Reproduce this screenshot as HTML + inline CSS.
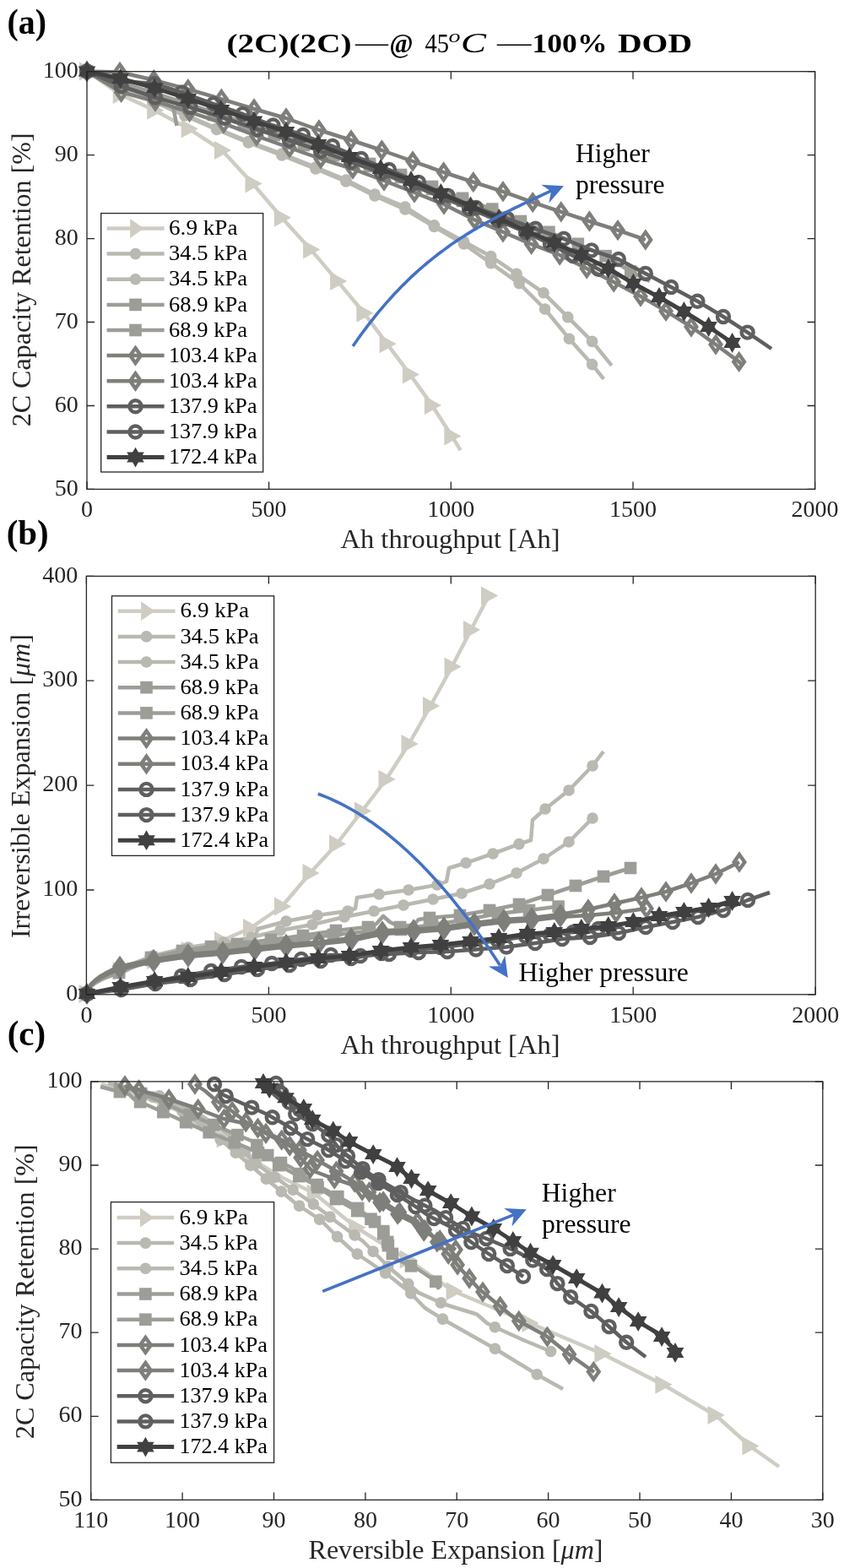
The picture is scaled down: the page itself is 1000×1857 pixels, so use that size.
<!DOCTYPE html>
<html><head><meta charset="utf-8"><title>figure</title><style>html,body{margin:0;padding:0;background:#fff;}svg{display:block;}</style></head><body>
<svg width="1000" height="1857" viewBox="0 0 1000 1857">
<style>text{font-family:'Liberation Serif', 'Times New Roman', serif;} .tk{font-size:28px;fill:#262626;} .lg{font-size:25px;fill:#000;} .lb{font-size:30.8px;fill:#262626;} .an{font-size:31.7px;fill:#000;} .pl{font-size:42px;font-weight:bold;fill:#000;}</style>
<rect width="1000" height="1857" fill="#fff"/>
<text x="8.5" y="40" class="pl" textLength="46.5" lengthAdjust="spacingAndGlyphs">(a)</text>
<text x="7.7" y="644.8" class="pl" textLength="50" lengthAdjust="spacingAndGlyphs">(b)</text>
<text x="8.7" y="1238.4" class="pl" textLength="45.5" lengthAdjust="spacingAndGlyphs">(c)</text>
<g style="font-size:32px;fill:#000">
<text x="268.5" y="62" font-weight="bold" textLength="148" lengthAdjust="spacingAndGlyphs">(2C)(2C)</text>
<text x="421" y="60.8" textLength="39" lengthAdjust="spacingAndGlyphs">—</text>
<text x="461.5" y="62" font-weight="bold" textLength="28" lengthAdjust="spacingAndGlyphs">@</text>
<text x="503.5" y="62" textLength="28.5" lengthAdjust="spacingAndGlyphs">45</text>
<text x="531.5" y="50" font-style="italic" style="font-size:21.5px" textLength="14" lengthAdjust="spacingAndGlyphs">o</text>
<text x="546" y="62" font-style="italic" style="font-size:33px" textLength="30" lengthAdjust="spacingAndGlyphs">C</text>
<text x="589" y="60.8" textLength="40.5" lengthAdjust="spacingAndGlyphs">—</text>
<text x="630.5" y="62" font-weight="bold" textLength="89" lengthAdjust="spacingAndGlyphs">100%</text>
<text x="732" y="62" font-weight="bold" textLength="88" lengthAdjust="spacingAndGlyphs">DOD</text>
</g>
<path d="M103,84.5 142.7,111.9 183.2,130.8 223.7,152.4 263,178 299.5,217.5 333.8,257.7 368.1,295.4 400.1,333.1 431.3,370.8 458.6,407.2 485.9,443.6 511.9,480 535.3,516.4 545.7,533.3" fill="none" stroke="#cfcdc3" stroke-width="4.5" stroke-linejoin="round"/>
<path d="M94 73.5L114.2 84.5L94 95.5Z" fill="#cfcdc3"/>
<path d="M133.7 100.9L153.9 111.9L133.7 122.9Z" fill="#cfcdc3"/>
<path d="M174.2 119.8L194.4 130.8L174.2 141.8Z" fill="#cfcdc3"/>
<path d="M214.7 141.4L234.9 152.4L214.7 163.4Z" fill="#cfcdc3"/>
<path d="M254 167L274.2 178L254 189Z" fill="#cfcdc3"/>
<path d="M290.5 206.5L310.7 217.5L290.5 228.5Z" fill="#cfcdc3"/>
<path d="M324.8 246.7L345 257.7L324.8 268.7Z" fill="#cfcdc3"/>
<path d="M359.1 284.4L379.3 295.4L359.1 306.4Z" fill="#cfcdc3"/>
<path d="M391.1 322.1L411.3 333.1L391.1 344.1Z" fill="#cfcdc3"/>
<path d="M422.3 359.8L442.5 370.8L422.3 381.8Z" fill="#cfcdc3"/>
<path d="M449.6 396.2L469.8 407.2L449.6 418.2Z" fill="#cfcdc3"/>
<path d="M476.9 432.6L497.1 443.6L476.9 454.6Z" fill="#cfcdc3"/>
<path d="M502.9 469L523.1 480L502.9 491Z" fill="#cfcdc3"/>
<path d="M526.3 505.4L546.5 516.4L526.3 527.4Z" fill="#cfcdc3"/>
<path d="M103,84.5 142,101.6 181,118.8 219,135.5 256.7,152 294.4,167.6 334,182 374,198 410,213 444,230 480,245 514.4,266.8 549.6,286 581.6,303.6 612,324.4 644,346.8 672.8,375.6 701.6,404.4 724.7,432.8" fill="none" stroke="#b9b8b1" stroke-width="4.5" stroke-linejoin="round"/>
<circle cx="103" cy="84.5" r="6.8" fill="#b9b8b1"/>
<circle cx="142" cy="101.6" r="6.8" fill="#b9b8b1"/>
<circle cx="181" cy="118.8" r="6.8" fill="#b9b8b1"/>
<circle cx="219" cy="135.5" r="6.8" fill="#b9b8b1"/>
<circle cx="256.7" cy="152" r="6.8" fill="#b9b8b1"/>
<circle cx="294.4" cy="167.6" r="6.8" fill="#b9b8b1"/>
<circle cx="334" cy="182" r="6.8" fill="#b9b8b1"/>
<circle cx="374" cy="198" r="6.8" fill="#b9b8b1"/>
<circle cx="410" cy="213" r="6.8" fill="#b9b8b1"/>
<circle cx="444" cy="230" r="6.8" fill="#b9b8b1"/>
<circle cx="480" cy="245" r="6.8" fill="#b9b8b1"/>
<circle cx="514.4" cy="266.8" r="6.8" fill="#b9b8b1"/>
<circle cx="549.6" cy="286" r="6.8" fill="#b9b8b1"/>
<circle cx="581.6" cy="303.6" r="6.8" fill="#b9b8b1"/>
<circle cx="612" cy="324.4" r="6.8" fill="#b9b8b1"/>
<circle cx="644" cy="346.8" r="6.8" fill="#b9b8b1"/>
<circle cx="672.8" cy="375.6" r="6.8" fill="#b9b8b1"/>
<circle cx="701.6" cy="404.4" r="6.8" fill="#b9b8b1"/>
<path d="M103,84.5 142,103 181,120 219,137 256.7,153.5 294.4,169 334,184 374,200 410,215 444,232 480,248 514.4,268.5 549.6,289 581.6,311.6 615.2,335.6 645.6,366 674.4,401.2 701.6,431.6 715.3,448.9" fill="none" stroke="#b9b8b1" stroke-width="4.5" stroke-linejoin="round"/>
<circle cx="103" cy="84.5" r="6.8" fill="#b9b8b1"/>
<circle cx="142" cy="103" r="6.8" fill="#b9b8b1"/>
<circle cx="181" cy="120" r="6.8" fill="#b9b8b1"/>
<circle cx="219" cy="137" r="6.8" fill="#b9b8b1"/>
<circle cx="256.7" cy="153.5" r="6.8" fill="#b9b8b1"/>
<circle cx="294.4" cy="169" r="6.8" fill="#b9b8b1"/>
<circle cx="334" cy="184" r="6.8" fill="#b9b8b1"/>
<circle cx="374" cy="200" r="6.8" fill="#b9b8b1"/>
<circle cx="410" cy="215" r="6.8" fill="#b9b8b1"/>
<circle cx="444" cy="232" r="6.8" fill="#b9b8b1"/>
<circle cx="480" cy="248" r="6.8" fill="#b9b8b1"/>
<circle cx="514.4" cy="268.5" r="6.8" fill="#b9b8b1"/>
<circle cx="549.6" cy="289" r="6.8" fill="#b9b8b1"/>
<circle cx="581.6" cy="311.6" r="6.8" fill="#b9b8b1"/>
<circle cx="615.2" cy="335.6" r="6.8" fill="#b9b8b1"/>
<circle cx="645.6" cy="366" r="6.8" fill="#b9b8b1"/>
<circle cx="674.4" cy="401.2" r="6.8" fill="#b9b8b1"/>
<circle cx="701.6" cy="431.6" r="6.8" fill="#b9b8b1"/>
<path d="M103,84.5 141,97 179,109 216,121 253,133 289,145 325,157 360,169 395,181 438,194 475,207 512,221 548,234.8 583.2,247.6 616.8,262 650.4,274.8 684.8,288.8 717.6,303.2 747.2,321.6 770,333" fill="none" stroke="#9d9d98" stroke-width="4.5" stroke-linejoin="round"/>
<rect x="95.7" y="77.2" width="14.6" height="14.6" fill="#9d9d98"/>
<rect x="133.7" y="89.7" width="14.6" height="14.6" fill="#9d9d98"/>
<rect x="171.7" y="101.7" width="14.6" height="14.6" fill="#9d9d98"/>
<rect x="208.7" y="113.7" width="14.6" height="14.6" fill="#9d9d98"/>
<rect x="245.7" y="125.7" width="14.6" height="14.6" fill="#9d9d98"/>
<rect x="281.7" y="137.7" width="14.6" height="14.6" fill="#9d9d98"/>
<rect x="317.7" y="149.7" width="14.6" height="14.6" fill="#9d9d98"/>
<rect x="352.7" y="161.7" width="14.6" height="14.6" fill="#9d9d98"/>
<rect x="387.7" y="173.7" width="14.6" height="14.6" fill="#9d9d98"/>
<rect x="430.7" y="186.7" width="14.6" height="14.6" fill="#9d9d98"/>
<rect x="467.7" y="199.7" width="14.6" height="14.6" fill="#9d9d98"/>
<rect x="504.7" y="213.7" width="14.6" height="14.6" fill="#9d9d98"/>
<rect x="540.7" y="227.5" width="14.6" height="14.6" fill="#9d9d98"/>
<rect x="575.9" y="240.3" width="14.6" height="14.6" fill="#9d9d98"/>
<rect x="609.5" y="254.7" width="14.6" height="14.6" fill="#9d9d98"/>
<rect x="643.1" y="267.5" width="14.6" height="14.6" fill="#9d9d98"/>
<rect x="677.5" y="281.5" width="14.6" height="14.6" fill="#9d9d98"/>
<rect x="710.3" y="295.9" width="14.6" height="14.6" fill="#9d9d98"/>
<rect x="739.9" y="314.3" width="14.6" height="14.6" fill="#9d9d98"/>
<path d="M103,84.5 141,99 179,111 216,124 253,136 289,148 325,160 360,172 395,184 438,197 475,210 512,224 548,238 583,251 617,265 650,279 662,285" fill="none" stroke="#9d9d98" stroke-width="4.5" stroke-linejoin="round"/>
<path d="M204,126 206,131 209.5,149" fill="none" stroke="#9d9d98" stroke-width="4.5" stroke-linejoin="round"/>
<rect x="95.7" y="77.2" width="14.6" height="14.6" fill="#9d9d98"/>
<rect x="133.7" y="91.7" width="14.6" height="14.6" fill="#9d9d98"/>
<rect x="171.7" y="103.7" width="14.6" height="14.6" fill="#9d9d98"/>
<rect x="208.7" y="116.7" width="14.6" height="14.6" fill="#9d9d98"/>
<rect x="245.7" y="128.7" width="14.6" height="14.6" fill="#9d9d98"/>
<rect x="281.7" y="140.7" width="14.6" height="14.6" fill="#9d9d98"/>
<rect x="317.7" y="152.7" width="14.6" height="14.6" fill="#9d9d98"/>
<rect x="352.7" y="164.7" width="14.6" height="14.6" fill="#9d9d98"/>
<rect x="387.7" y="176.7" width="14.6" height="14.6" fill="#9d9d98"/>
<rect x="430.7" y="189.7" width="14.6" height="14.6" fill="#9d9d98"/>
<rect x="467.7" y="202.7" width="14.6" height="14.6" fill="#9d9d98"/>
<rect x="504.7" y="216.7" width="14.6" height="14.6" fill="#9d9d98"/>
<rect x="540.7" y="230.7" width="14.6" height="14.6" fill="#9d9d98"/>
<rect x="575.7" y="243.7" width="14.6" height="14.6" fill="#9d9d98"/>
<rect x="609.7" y="257.7" width="14.6" height="14.6" fill="#9d9d98"/>
<rect x="642.7" y="271.7" width="14.6" height="14.6" fill="#9d9d98"/>
<path d="M103,84.5 142,85.5 182.3,94.8 222.8,105.6 262.4,117.3 301,129 339,140 378,154 416,166 452.4,178 489,191 525.6,204 560.8,215.6 596,226.8 631.2,239.6 664.8,250.8 698.4,262 732,272.6 764.8,284" fill="none" stroke="#7e7e7a" stroke-width="4.5" stroke-linejoin="round"/>
<path d="M103 75.6L109.3 84.5L103 93.4L96.7 84.5Z" fill="none" stroke="#7e7e7a" stroke-width="4.4"/>
<path d="M142 76.6L148.3 85.5L142 94.4L135.7 85.5Z" fill="none" stroke="#7e7e7a" stroke-width="4.4"/>
<path d="M182.3 85.9L188.6 94.8L182.3 103.7L176 94.8Z" fill="none" stroke="#7e7e7a" stroke-width="4.4"/>
<path d="M222.8 96.7L229.1 105.6L222.8 114.5L216.5 105.6Z" fill="none" stroke="#7e7e7a" stroke-width="4.4"/>
<path d="M262.4 108.4L268.7 117.3L262.4 126.2L256.1 117.3Z" fill="none" stroke="#7e7e7a" stroke-width="4.4"/>
<path d="M301 120.1L307.3 129L301 137.9L294.7 129Z" fill="none" stroke="#7e7e7a" stroke-width="4.4"/>
<path d="M339 131.1L345.3 140L339 148.9L332.7 140Z" fill="none" stroke="#7e7e7a" stroke-width="4.4"/>
<path d="M378 145.1L384.3 154L378 162.9L371.7 154Z" fill="none" stroke="#7e7e7a" stroke-width="4.4"/>
<path d="M416 157.1L422.3 166L416 174.9L409.7 166Z" fill="none" stroke="#7e7e7a" stroke-width="4.4"/>
<path d="M452.4 169.1L458.7 178L452.4 186.9L446.1 178Z" fill="none" stroke="#7e7e7a" stroke-width="4.4"/>
<path d="M489 182.1L495.3 191L489 199.9L482.7 191Z" fill="none" stroke="#7e7e7a" stroke-width="4.4"/>
<path d="M525.6 195.1L531.9 204L525.6 212.9L519.3 204Z" fill="none" stroke="#7e7e7a" stroke-width="4.4"/>
<path d="M560.8 206.7L567.1 215.6L560.8 224.5L554.5 215.6Z" fill="none" stroke="#7e7e7a" stroke-width="4.4"/>
<path d="M596 217.9L602.3 226.8L596 235.7L589.7 226.8Z" fill="none" stroke="#7e7e7a" stroke-width="4.4"/>
<path d="M631.2 230.7L637.5 239.6L631.2 248.5L624.9 239.6Z" fill="none" stroke="#7e7e7a" stroke-width="4.4"/>
<path d="M664.8 241.9L671.1 250.8L664.8 259.7L658.5 250.8Z" fill="none" stroke="#7e7e7a" stroke-width="4.4"/>
<path d="M698.4 253.1L704.7 262L698.4 270.9L692.1 262Z" fill="none" stroke="#7e7e7a" stroke-width="4.4"/>
<path d="M732 263.7L738.3 272.6L732 281.5L725.7 272.6Z" fill="none" stroke="#7e7e7a" stroke-width="4.4"/>
<path d="M764.8 275.1L771.1 284L764.8 292.9L758.5 284Z" fill="none" stroke="#7e7e7a" stroke-width="4.4"/>
<path d="M103,84.5 143.6,109.2 184,120 224.6,132.6 265,146.1 304,161 343,175 380,188 418,200 455,214 491,228 526,242 562.4,260.4 596,274.8 629.6,289.2 663.2,302 695.2,318 727.2,334 759,351 789,368.4 819,387 848,408 875.6,428.4 880,433" fill="none" stroke="#7e7e7a" stroke-width="4.5" stroke-linejoin="round"/>
<path d="M103 75.6L109.3 84.5L103 93.4L96.7 84.5Z" fill="none" stroke="#7e7e7a" stroke-width="4.4"/>
<path d="M143.6 100.3L149.9 109.2L143.6 118.1L137.3 109.2Z" fill="none" stroke="#7e7e7a" stroke-width="4.4"/>
<path d="M184 111.1L190.3 120L184 128.9L177.7 120Z" fill="none" stroke="#7e7e7a" stroke-width="4.4"/>
<path d="M224.6 123.7L230.9 132.6L224.6 141.5L218.3 132.6Z" fill="none" stroke="#7e7e7a" stroke-width="4.4"/>
<path d="M265 137.2L271.3 146.1L265 155L258.7 146.1Z" fill="none" stroke="#7e7e7a" stroke-width="4.4"/>
<path d="M304 152.1L310.3 161L304 169.9L297.7 161Z" fill="none" stroke="#7e7e7a" stroke-width="4.4"/>
<path d="M343 166.1L349.3 175L343 183.9L336.7 175Z" fill="none" stroke="#7e7e7a" stroke-width="4.4"/>
<path d="M380 179.1L386.3 188L380 196.9L373.7 188Z" fill="none" stroke="#7e7e7a" stroke-width="4.4"/>
<path d="M418 191.1L424.3 200L418 208.9L411.7 200Z" fill="none" stroke="#7e7e7a" stroke-width="4.4"/>
<path d="M455 205.1L461.3 214L455 222.9L448.7 214Z" fill="none" stroke="#7e7e7a" stroke-width="4.4"/>
<path d="M491 219.1L497.3 228L491 236.9L484.7 228Z" fill="none" stroke="#7e7e7a" stroke-width="4.4"/>
<path d="M526 233.1L532.3 242L526 250.9L519.7 242Z" fill="none" stroke="#7e7e7a" stroke-width="4.4"/>
<path d="M562.4 251.5L568.7 260.4L562.4 269.3L556.1 260.4Z" fill="none" stroke="#7e7e7a" stroke-width="4.4"/>
<path d="M596 265.9L602.3 274.8L596 283.7L589.7 274.8Z" fill="none" stroke="#7e7e7a" stroke-width="4.4"/>
<path d="M629.6 280.3L635.9 289.2L629.6 298.1L623.3 289.2Z" fill="none" stroke="#7e7e7a" stroke-width="4.4"/>
<path d="M663.2 293.1L669.5 302L663.2 310.9L656.9 302Z" fill="none" stroke="#7e7e7a" stroke-width="4.4"/>
<path d="M695.2 309.1L701.5 318L695.2 326.9L688.9 318Z" fill="none" stroke="#7e7e7a" stroke-width="4.4"/>
<path d="M727.2 325.1L733.5 334L727.2 342.9L720.9 334Z" fill="none" stroke="#7e7e7a" stroke-width="4.4"/>
<path d="M759 342.1L765.3 351L759 359.9L752.7 351Z" fill="none" stroke="#7e7e7a" stroke-width="4.4"/>
<path d="M789 359.5L795.3 368.4L789 377.3L782.7 368.4Z" fill="none" stroke="#7e7e7a" stroke-width="4.4"/>
<path d="M819 378.1L825.3 387L819 395.9L812.7 387Z" fill="none" stroke="#7e7e7a" stroke-width="4.4"/>
<path d="M848 399.1L854.3 408L848 416.9L841.7 408Z" fill="none" stroke="#7e7e7a" stroke-width="4.4"/>
<path d="M875.6 419.5L881.9 428.4L875.6 437.3L869.3 428.4Z" fill="none" stroke="#7e7e7a" stroke-width="4.4"/>
<path d="M103,84.5 143,96 182.5,99 215.5,109.5 253,123 287.5,135 323.5,148.5 359,160 394,173 428,188 461,201 496,216 530.4,231.6 564,246 600.8,258.8 634.4,270.8 668,282.8 700.8,296.4 732.8,307 764.8,324 795.2,340 826.4,356.8 857,375 885.6,393.6 914,413" fill="none" stroke="#5f5f5f" stroke-width="4.5" stroke-linejoin="round"/>
<circle cx="103" cy="84.5" r="7" fill="none" stroke="#5f5f5f" stroke-width="4.4"/>
<circle cx="143" cy="96" r="7" fill="none" stroke="#5f5f5f" stroke-width="4.4"/>
<circle cx="182.5" cy="99" r="7" fill="none" stroke="#5f5f5f" stroke-width="4.4"/>
<circle cx="215.5" cy="109.5" r="7" fill="none" stroke="#5f5f5f" stroke-width="4.4"/>
<circle cx="253" cy="123" r="7" fill="none" stroke="#5f5f5f" stroke-width="4.4"/>
<circle cx="287.5" cy="135" r="7" fill="none" stroke="#5f5f5f" stroke-width="4.4"/>
<circle cx="323.5" cy="148.5" r="7" fill="none" stroke="#5f5f5f" stroke-width="4.4"/>
<circle cx="359" cy="160" r="7" fill="none" stroke="#5f5f5f" stroke-width="4.4"/>
<circle cx="394" cy="173" r="7" fill="none" stroke="#5f5f5f" stroke-width="4.4"/>
<circle cx="428" cy="188" r="7" fill="none" stroke="#5f5f5f" stroke-width="4.4"/>
<circle cx="461" cy="201" r="7" fill="none" stroke="#5f5f5f" stroke-width="4.4"/>
<circle cx="496" cy="216" r="7" fill="none" stroke="#5f5f5f" stroke-width="4.4"/>
<circle cx="530.4" cy="231.6" r="7" fill="none" stroke="#5f5f5f" stroke-width="4.4"/>
<circle cx="564" cy="246" r="7" fill="none" stroke="#5f5f5f" stroke-width="4.4"/>
<circle cx="600.8" cy="258.8" r="7" fill="none" stroke="#5f5f5f" stroke-width="4.4"/>
<circle cx="634.4" cy="270.8" r="7" fill="none" stroke="#5f5f5f" stroke-width="4.4"/>
<circle cx="668" cy="282.8" r="7" fill="none" stroke="#5f5f5f" stroke-width="4.4"/>
<circle cx="700.8" cy="296.4" r="7" fill="none" stroke="#5f5f5f" stroke-width="4.4"/>
<circle cx="732.8" cy="307" r="7" fill="none" stroke="#5f5f5f" stroke-width="4.4"/>
<circle cx="764.8" cy="324" r="7" fill="none" stroke="#5f5f5f" stroke-width="4.4"/>
<circle cx="795.2" cy="340" r="7" fill="none" stroke="#5f5f5f" stroke-width="4.4"/>
<circle cx="826.4" cy="356.8" r="7" fill="none" stroke="#5f5f5f" stroke-width="4.4"/>
<circle cx="857" cy="375" r="7" fill="none" stroke="#5f5f5f" stroke-width="4.4"/>
<circle cx="885.6" cy="393.6" r="7" fill="none" stroke="#5f5f5f" stroke-width="4.4"/>
<path d="M103,84.5 143.6,102 184,115.5 225.5,127.2 266,139.8 305,153 343,166 380,179 416,192 452,205 487,219 522,233 556,247 590,261 623,275 652,289 679,303 709,318.8 715,322" fill="none" stroke="#5f5f5f" stroke-width="4.5" stroke-linejoin="round"/>
<circle cx="103" cy="84.5" r="7" fill="none" stroke="#5f5f5f" stroke-width="4.4"/>
<circle cx="143.6" cy="102" r="7" fill="none" stroke="#5f5f5f" stroke-width="4.4"/>
<circle cx="184" cy="115.5" r="7" fill="none" stroke="#5f5f5f" stroke-width="4.4"/>
<circle cx="225.5" cy="127.2" r="7" fill="none" stroke="#5f5f5f" stroke-width="4.4"/>
<circle cx="266" cy="139.8" r="7" fill="none" stroke="#5f5f5f" stroke-width="4.4"/>
<circle cx="305" cy="153" r="7" fill="none" stroke="#5f5f5f" stroke-width="4.4"/>
<circle cx="343" cy="166" r="7" fill="none" stroke="#5f5f5f" stroke-width="4.4"/>
<circle cx="380" cy="179" r="7" fill="none" stroke="#5f5f5f" stroke-width="4.4"/>
<circle cx="416" cy="192" r="7" fill="none" stroke="#5f5f5f" stroke-width="4.4"/>
<circle cx="452" cy="205" r="7" fill="none" stroke="#5f5f5f" stroke-width="4.4"/>
<circle cx="487" cy="219" r="7" fill="none" stroke="#5f5f5f" stroke-width="4.4"/>
<circle cx="522" cy="233" r="7" fill="none" stroke="#5f5f5f" stroke-width="4.4"/>
<circle cx="556" cy="247" r="7" fill="none" stroke="#5f5f5f" stroke-width="4.4"/>
<circle cx="590" cy="261" r="7" fill="none" stroke="#5f5f5f" stroke-width="4.4"/>
<circle cx="623" cy="275" r="7" fill="none" stroke="#5f5f5f" stroke-width="4.4"/>
<circle cx="652" cy="289" r="7" fill="none" stroke="#5f5f5f" stroke-width="4.4"/>
<circle cx="679" cy="303" r="7" fill="none" stroke="#5f5f5f" stroke-width="4.4"/>
<circle cx="709" cy="318.8" r="7" fill="none" stroke="#5f5f5f" stroke-width="4.4"/>
<path d="M103,84.5 142.7,93 183.2,104.2 222.8,116.8 262,130 301,143.4 339,156 377,171 414,186 451,200 487,214 522.4,229 557.6,244.4 591.2,258.8 624.8,273.8 656.8,287.6 688.8,302 720.8,318 750.4,335.6 781,352 810.4,369 839.6,387 867.6,406" fill="none" stroke="#404040" stroke-width="5.0" stroke-linejoin="round"/>
<path d="M103 72.6L106.4 78.5L113.3 78.5L109.9 84.5L113.3 90.5L106.4 90.5L103 96.4L99.6 90.5L92.7 90.5L96.1 84.5L92.7 78.5L99.6 78.5Z" fill="#404040"/>
<path d="M142.7 81.1L146.1 87L153 87L149.6 93L153 99L146.1 99L142.7 104.9L139.3 99L132.4 99L135.8 93L132.4 87L139.3 87Z" fill="#404040"/>
<path d="M183.2 92.3L186.6 98.2L193.5 98.2L190.1 104.2L193.5 110.2L186.6 110.2L183.2 116.1L179.8 110.2L172.9 110.2L176.3 104.2L172.9 98.2L179.8 98.2Z" fill="#404040"/>
<path d="M222.8 104.9L226.2 110.8L233.1 110.8L229.7 116.8L233.1 122.8L226.2 122.8L222.8 128.7L219.4 122.8L212.5 122.8L215.9 116.8L212.5 110.8L219.4 110.8Z" fill="#404040"/>
<path d="M262 118.1L265.4 124L272.3 124L268.9 130L272.3 135.9L265.4 135.9L262 141.9L258.6 135.9L251.7 135.9L255.1 130L251.7 124L258.6 124Z" fill="#404040"/>
<path d="M301 131.5L304.4 137.5L311.3 137.5L307.9 143.4L311.3 149.3L304.4 149.3L301 155.3L297.6 149.3L290.7 149.3L294.1 143.4L290.7 137.5L297.6 137.5Z" fill="#404040"/>
<path d="M339 144.1L342.4 150.1L349.3 150.1L345.9 156L349.3 161.9L342.4 161.9L339 167.9L335.6 161.9L328.7 161.9L332.1 156L328.7 150.1L335.6 150.1Z" fill="#404040"/>
<path d="M377 159.1L380.4 165.1L387.3 165.1L383.9 171L387.3 176.9L380.4 176.9L377 182.9L373.6 176.9L366.7 176.9L370.1 171L366.7 165.1L373.6 165.1Z" fill="#404040"/>
<path d="M414 174.1L417.4 180.1L424.3 180.1L420.9 186L424.3 191.9L417.4 191.9L414 197.9L410.6 191.9L403.7 191.9L407.1 186L403.7 180.1L410.6 180.1Z" fill="#404040"/>
<path d="M451 188.1L454.4 194.1L461.3 194.1L457.9 200L461.3 205.9L454.4 205.9L451 211.9L447.6 205.9L440.7 205.9L444.1 200L440.7 194.1L447.6 194.1Z" fill="#404040"/>
<path d="M487 202.1L490.4 208.1L497.3 208.1L493.9 214L497.3 219.9L490.4 219.9L487 225.9L483.6 219.9L476.7 219.9L480.1 214L476.7 208.1L483.6 208.1Z" fill="#404040"/>
<path d="M522.4 217.1L525.8 223.1L532.7 223.1L529.3 229L532.7 234.9L525.8 234.9L522.4 240.9L519 234.9L512.1 234.9L515.5 229L512.1 223.1L519 223.1Z" fill="#404040"/>
<path d="M557.6 232.5L561 238.5L567.9 238.5L564.5 244.4L567.9 250.3L561 250.3L557.6 256.3L554.2 250.3L547.3 250.3L550.7 244.4L547.3 238.5L554.2 238.5Z" fill="#404040"/>
<path d="M591.2 246.9L594.6 252.9L601.5 252.9L598.1 258.8L601.5 264.8L594.6 264.8L591.2 270.7L587.8 264.8L580.9 264.8L584.3 258.8L580.9 252.9L587.8 252.9Z" fill="#404040"/>
<path d="M624.8 261.9L628.2 267.9L635.1 267.9L631.7 273.8L635.1 279.8L628.2 279.8L624.8 285.7L621.4 279.8L614.5 279.8L617.9 273.8L614.5 267.9L621.4 267.9Z" fill="#404040"/>
<path d="M656.8 275.7L660.2 281.7L667.1 281.7L663.7 287.6L667.1 293.6L660.2 293.6L656.8 299.5L653.4 293.6L646.5 293.6L649.9 287.6L646.5 281.7L653.4 281.7Z" fill="#404040"/>
<path d="M688.8 290.1L692.2 296.1L699.1 296.1L695.7 302L699.1 307.9L692.2 307.9L688.8 313.9L685.4 307.9L678.5 307.9L681.9 302L678.5 296.1L685.4 296.1Z" fill="#404040"/>
<path d="M720.8 306.1L724.2 312.1L731.1 312.1L727.7 318L731.1 323.9L724.2 323.9L720.8 329.9L717.4 323.9L710.5 323.9L713.9 318L710.5 312.1L717.4 312.1Z" fill="#404040"/>
<path d="M750.4 323.7L753.8 329.7L760.7 329.7L757.3 335.6L760.7 341.6L753.8 341.6L750.4 347.5L747 341.6L740.1 341.6L743.5 335.6L740.1 329.7L747 329.7Z" fill="#404040"/>
<path d="M781 340.1L784.4 346.1L791.3 346.1L787.9 352L791.3 357.9L784.4 357.9L781 363.9L777.6 357.9L770.7 357.9L774.1 352L770.7 346.1L777.6 346.1Z" fill="#404040"/>
<path d="M810.4 357.1L813.8 363.1L820.7 363.1L817.3 369L820.7 374.9L813.8 374.9L810.4 380.9L807 374.9L800.1 374.9L803.5 369L800.1 363.1L807 363.1Z" fill="#404040"/>
<path d="M839.6 375.1L843 381.1L849.9 381.1L846.5 387L849.9 392.9L843 392.9L839.6 398.9L836.2 392.9L829.3 392.9L832.7 387L829.3 381.1L836.2 381.1Z" fill="#404040"/>
<path d="M867.6 394.1L871 400.1L877.9 400.1L874.5 406L877.9 411.9L871 411.9L867.6 417.9L864.2 411.9L857.3 411.9L860.7 406L857.3 400.1L864.2 400.1Z" fill="#404040"/>
<rect x="103" y="84.7" width="862.6" height="494.7" fill="none" stroke="#262626" stroke-width="1.3"/>
<path d="M103 579.4V570.4M103 84.7V93.7" stroke="#262626" stroke-width="1.3"/>
<text x="103" y="612.4" text-anchor="middle" class="tk">0</text>
<path d="M318.6 579.4V570.4M318.6 84.7V93.7" stroke="#262626" stroke-width="1.3"/>
<text x="318.6" y="612.4" text-anchor="middle" class="tk">500</text>
<path d="M534.3 579.4V570.4M534.3 84.7V93.7" stroke="#262626" stroke-width="1.3"/>
<text x="534.3" y="612.4" text-anchor="middle" class="tk">1000</text>
<path d="M750 579.4V570.4M750 84.7V93.7" stroke="#262626" stroke-width="1.3"/>
<text x="750" y="612.4" text-anchor="middle" class="tk">1500</text>
<path d="M965.6 579.4V570.4M965.6 84.7V93.7" stroke="#262626" stroke-width="1.3"/>
<text x="965.6" y="612.4" text-anchor="middle" class="tk">2000</text>
<path d="M103 579.4H112M965.6 579.4H956.6" stroke="#262626" stroke-width="1.3"/>
<text x="92.8" y="586.5" text-anchor="end" class="tk">50</text>
<path d="M103 480.5H112M965.6 480.5H956.6" stroke="#262626" stroke-width="1.3"/>
<text x="92.8" y="487.6" text-anchor="end" class="tk">60</text>
<path d="M103 381.5H112M965.6 381.5H956.6" stroke="#262626" stroke-width="1.3"/>
<text x="92.8" y="388.6" text-anchor="end" class="tk">70</text>
<path d="M103 282.6H112M965.6 282.6H956.6" stroke="#262626" stroke-width="1.3"/>
<text x="92.8" y="289.7" text-anchor="end" class="tk">80</text>
<path d="M103 183.6H112M965.6 183.6H956.6" stroke="#262626" stroke-width="1.3"/>
<text x="92.8" y="190.7" text-anchor="end" class="tk">90</text>
<path d="M103 84.7H112M965.6 84.7H956.6" stroke="#262626" stroke-width="1.3"/>
<text x="92.8" y="91.8" text-anchor="end" class="tk">100</text>
<rect x="119.7" y="252.6" width="192" height="306.4" fill="#fff" stroke="#262626" stroke-width="1.3"/>
<path d="M126.6,270.5 194.6,270.5" fill="none" stroke="#cfcdc3" stroke-width="4.5" stroke-linejoin="round"/>
<path d="M154.1 259L170.4 270.5L154.1 282Z" fill="#cfcdc3"/>
<text x="200" y="278.1" class="lg" textLength="81.5" lengthAdjust="spacingAndGlyphs">6.9 kPa</text>
<path d="M126.6,300.6 194.6,300.6" fill="none" stroke="#b9b8b1" stroke-width="4.5" stroke-linejoin="round"/>
<circle cx="160.5" cy="300.6" r="6.8" fill="#b9b8b1"/>
<text x="200" y="308.2" class="lg" textLength="93" lengthAdjust="spacingAndGlyphs">34.5 kPa</text>
<path d="M126.6,330.7 194.6,330.7" fill="none" stroke="#b9b8b1" stroke-width="4.5" stroke-linejoin="round"/>
<circle cx="160.5" cy="330.7" r="6.8" fill="#b9b8b1"/>
<text x="200" y="338.3" class="lg" textLength="93" lengthAdjust="spacingAndGlyphs">34.5 kPa</text>
<path d="M126.6,360.9 194.6,360.9" fill="none" stroke="#9d9d98" stroke-width="4.5" stroke-linejoin="round"/>
<rect x="153.2" y="353.6" width="14.6" height="14.6" fill="#9d9d98"/>
<text x="200" y="368.5" class="lg" textLength="93" lengthAdjust="spacingAndGlyphs">68.9 kPa</text>
<path d="M126.6,391 194.6,391" fill="none" stroke="#9d9d98" stroke-width="4.5" stroke-linejoin="round"/>
<rect x="153.2" y="383.7" width="14.6" height="14.6" fill="#9d9d98"/>
<text x="200" y="398.6" class="lg" textLength="93" lengthAdjust="spacingAndGlyphs">68.9 kPa</text>
<path d="M126.6,421.1 194.6,421.1" fill="none" stroke="#7e7e7a" stroke-width="4.5" stroke-linejoin="round"/>
<path d="M160.5 412.2L166.8 421.1L160.5 430L154.2 421.1Z" fill="none" stroke="#7e7e7a" stroke-width="4.4"/>
<text x="200" y="428.7" class="lg" textLength="104.5" lengthAdjust="spacingAndGlyphs">103.4 kPa</text>
<path d="M126.6,451.2 194.6,451.2" fill="none" stroke="#7e7e7a" stroke-width="4.5" stroke-linejoin="round"/>
<path d="M160.5 442.3L166.8 451.2L160.5 460.1L154.2 451.2Z" fill="none" stroke="#7e7e7a" stroke-width="4.4"/>
<text x="200" y="458.8" class="lg" textLength="104.5" lengthAdjust="spacingAndGlyphs">103.4 kPa</text>
<path d="M126.6,481.3 194.6,481.3" fill="none" stroke="#5f5f5f" stroke-width="4.5" stroke-linejoin="round"/>
<circle cx="160.5" cy="481.3" r="7" fill="none" stroke="#5f5f5f" stroke-width="4.4"/>
<text x="200" y="488.9" class="lg" textLength="104.5" lengthAdjust="spacingAndGlyphs">137.9 kPa</text>
<path d="M126.6,511.5 194.6,511.5" fill="none" stroke="#5f5f5f" stroke-width="4.5" stroke-linejoin="round"/>
<circle cx="160.5" cy="511.5" r="7" fill="none" stroke="#5f5f5f" stroke-width="4.4"/>
<text x="200" y="519.1" class="lg" textLength="104.5" lengthAdjust="spacingAndGlyphs">137.9 kPa</text>
<path d="M126.6,541.6 194.6,541.6" fill="none" stroke="#404040" stroke-width="5.0" stroke-linejoin="round"/>
<path d="M160.5 529.7L163.9 535.6L170.8 535.6L167.4 541.6L170.8 547.5L163.9 547.5L160.5 553.5L157.1 547.5L150.2 547.5L153.6 541.6L150.2 535.6L157.1 535.6Z" fill="#404040"/>
<text x="200" y="549.2" class="lg" textLength="104.5" lengthAdjust="spacingAndGlyphs">172.4 kPa</text>
<path d="M418.1,410 421.1,405.7 424,401.5 427,397.4 430,393.3 433,389.3 435.9,385.4 438.9,381.6 441.9,377.8 444.8,374.1 447.8,370.4 450.8,366.9 453.8,363.4 456.7,359.9 459.7,356.6 462.7,353.3 465.6,350 468.6,346.8 471.6,343.7 474.6,340.6 477.5,337.6 480.5,334.7 483.5,331.8 486.4,328.9 489.4,326.2 492.4,323.4 495.4,320.7 498.3,318.1 501.3,315.5 504.3,313 507.2,310.5 510.2,308.1 513.2,305.7 516.2,303.3 519.1,301 522.1,298.8 525.1,296.6 528.1,294.4 531,292.2 534,290.1 537,288.1 539.9,286.1 542.9,284.1 545.9,282.1 548.9,280.2 551.8,278.3 554.8,276.4 557.8,274.6 560.7,272.8 563.7,271.1 566.7,269.3 569.7,267.6 572.6,265.9 575.6,264.2 578.6,262.6 581.5,261 584.5,259.4 587.5,257.8 590.5,256.2 593.4,254.7 596.4,253.1 599.4,251.6 602.3,250.1 605.3,248.7 608.3,247.2 611.3,245.7 614.2,244.3 617.2,242.8 620.2,241.4 623.1,240 626.1,238.6 629.1,237.2 632.1,235.8 635,234.4 638,233 641,231.6 643.9,230.2 646.9,228.8 649.9,227.4 652.9,225.9" fill="none" stroke="#4472c4" stroke-width="3.6"/><path d="M667.9 220.2L650.4 240.4L652.9 226.6L641.2 218.7Z" fill="#4472c4"/>
<text x="681.8" y="192.2" class="an">Higher</text>
<text x="682" y="228.9" class="an">pressure</text>
<text x="403.5" y="649.4" class="lb" textLength="260" lengthAdjust="spacingAndGlyphs">Ah throughput [Ah]</text>
<text transform="translate(35.9,331.3) rotate(-90)" text-anchor="middle" class="lb" textLength="348" lengthAdjust="spacingAndGlyphs">2C Capacity Retention [%]</text>
<path d="M102.5,1177 104.1,1171.6 107.3,1167.6 112.5,1163.5 119.4,1159.5 127.4,1155.7 135.5,1152.6 142.7,1150 183.2,1137 223.7,1126 263,1114 297,1099 334,1073.5 367.5,1034 399,999.5 429,960.5 457.5,923 484.5,881 510,836 535.5,789.5 558,746 579,705.5" fill="none" stroke="#cfcdc3" stroke-width="4.5" stroke-linejoin="round"/>
<path d="M93.5 1166L113.7 1177L93.5 1188Z" fill="#cfcdc3"/>
<path d="M133.7 1139L153.9 1150L133.7 1161Z" fill="#cfcdc3"/>
<path d="M174.2 1126L194.4 1137L174.2 1148Z" fill="#cfcdc3"/>
<path d="M214.7 1115L234.9 1126L214.7 1137Z" fill="#cfcdc3"/>
<path d="M254 1103L274.2 1114L254 1125Z" fill="#cfcdc3"/>
<path d="M288 1088L308.2 1099L288 1110Z" fill="#cfcdc3"/>
<path d="M325 1062.5L345.2 1073.5L325 1084.5Z" fill="#cfcdc3"/>
<path d="M358.5 1023L378.7 1034L358.5 1045Z" fill="#cfcdc3"/>
<path d="M390 988.5L410.2 999.5L390 1010.5Z" fill="#cfcdc3"/>
<path d="M420 949.5L440.2 960.5L420 971.5Z" fill="#cfcdc3"/>
<path d="M448.5 912L468.7 923L448.5 934Z" fill="#cfcdc3"/>
<path d="M475.5 870L495.7 881L475.5 892Z" fill="#cfcdc3"/>
<path d="M501 825L521.2 836L501 847Z" fill="#cfcdc3"/>
<path d="M526.5 778.5L546.7 789.5L526.5 800.5Z" fill="#cfcdc3"/>
<path d="M549 735L569.2 746L549 757Z" fill="#cfcdc3"/>
<path d="M570 694.5L590.2 705.5L570 716.5Z" fill="#cfcdc3"/>
<path d="M102.5,1177 104.1,1171 107.2,1166.6 112.4,1162 119.1,1157.6 127,1153.4 134.9,1149.8 142,1147 181,1132 223,1122 265,1116 300,1112 306,1100 339,1091 376,1084 412,1079 421,1076 423,1063 449,1059 484,1054 518,1048 529,1044 532,1028 552,1022 584,1011 615,999.6 629,995 631,971 646,958 674,936 702,907 715,890" fill="none" stroke="#b9b8b1" stroke-width="4.5" stroke-linejoin="round"/>
<circle cx="103" cy="1177" r="6.8" fill="#b9b8b1"/>
<circle cx="142" cy="1147" r="6.8" fill="#b9b8b1"/>
<circle cx="181" cy="1132" r="6.8" fill="#b9b8b1"/>
<circle cx="223" cy="1122" r="6.8" fill="#b9b8b1"/>
<circle cx="265" cy="1116" r="6.8" fill="#b9b8b1"/>
<circle cx="339" cy="1091" r="6.8" fill="#b9b8b1"/>
<circle cx="376" cy="1084" r="6.8" fill="#b9b8b1"/>
<circle cx="412" cy="1079" r="6.8" fill="#b9b8b1"/>
<circle cx="449" cy="1059" r="6.8" fill="#b9b8b1"/>
<circle cx="484" cy="1054" r="6.8" fill="#b9b8b1"/>
<circle cx="518" cy="1048" r="6.8" fill="#b9b8b1"/>
<circle cx="552" cy="1022" r="6.8" fill="#b9b8b1"/>
<circle cx="584" cy="1011" r="6.8" fill="#b9b8b1"/>
<circle cx="615" cy="999.6" r="6.8" fill="#b9b8b1"/>
<circle cx="646" cy="958" r="6.8" fill="#b9b8b1"/>
<circle cx="674" cy="936" r="6.8" fill="#b9b8b1"/>
<circle cx="702" cy="907" r="6.8" fill="#b9b8b1"/>
<path d="M102.5,1177 104.1,1171.6 107.2,1167.6 112.4,1163.5 119.1,1159.5 127,1155.7 134.9,1152.6 142,1150 181,1135 223,1125 265,1118 298,1110 332,1102 370,1095 408,1086 443,1079 478,1072 513,1065 547,1058 580,1047 612,1034 644,1017 674,997 702,969" fill="none" stroke="#b9b8b1" stroke-width="4.5" stroke-linejoin="round"/>
<circle cx="102.5" cy="1177" r="6.8" fill="#b9b8b1"/>
<circle cx="142" cy="1150" r="6.8" fill="#b9b8b1"/>
<circle cx="181" cy="1135" r="6.8" fill="#b9b8b1"/>
<circle cx="223" cy="1125" r="6.8" fill="#b9b8b1"/>
<circle cx="265" cy="1118" r="6.8" fill="#b9b8b1"/>
<circle cx="298" cy="1110" r="6.8" fill="#b9b8b1"/>
<circle cx="332" cy="1102" r="6.8" fill="#b9b8b1"/>
<circle cx="370" cy="1095" r="6.8" fill="#b9b8b1"/>
<circle cx="408" cy="1086" r="6.8" fill="#b9b8b1"/>
<circle cx="443" cy="1079" r="6.8" fill="#b9b8b1"/>
<circle cx="478" cy="1072" r="6.8" fill="#b9b8b1"/>
<circle cx="513" cy="1065" r="6.8" fill="#b9b8b1"/>
<circle cx="547" cy="1058" r="6.8" fill="#b9b8b1"/>
<circle cx="580" cy="1047" r="6.8" fill="#b9b8b1"/>
<circle cx="612" cy="1034" r="6.8" fill="#b9b8b1"/>
<circle cx="644" cy="1017" r="6.8" fill="#b9b8b1"/>
<circle cx="674" cy="997" r="6.8" fill="#b9b8b1"/>
<circle cx="702" cy="969" r="6.8" fill="#b9b8b1"/>
<path d="M103,1177 104.5,1171.6 107.6,1167.6 112.5,1163.5 119,1159.5 126.6,1155.7 134.2,1152.6 141,1150 179,1134 216,1126 250,1121 281,1118 321,1113 359,1108 398,1102 436,1098 446,1094 454,1085 462,1092 474,1098 490,1095 496,1089 509,1087 545,1084 580,1078 615,1071 649,1060 682,1049 715,1038 747,1028" fill="none" stroke="#9d9d98" stroke-width="4.5" stroke-linejoin="round"/>
<rect x="95.7" y="1169.7" width="14.6" height="14.6" fill="#9d9d98"/>
<rect x="133.7" y="1142.7" width="14.6" height="14.6" fill="#9d9d98"/>
<rect x="171.7" y="1126.7" width="14.6" height="14.6" fill="#9d9d98"/>
<rect x="208.7" y="1118.7" width="14.6" height="14.6" fill="#9d9d98"/>
<rect x="242.7" y="1113.7" width="14.6" height="14.6" fill="#9d9d98"/>
<rect x="273.7" y="1110.7" width="14.6" height="14.6" fill="#9d9d98"/>
<rect x="313.7" y="1105.7" width="14.6" height="14.6" fill="#9d9d98"/>
<rect x="351.7" y="1100.7" width="14.6" height="14.6" fill="#9d9d98"/>
<rect x="390.7" y="1094.7" width="14.6" height="14.6" fill="#9d9d98"/>
<rect x="428.7" y="1090.7" width="14.6" height="14.6" fill="#9d9d98"/>
<rect x="466.7" y="1090.7" width="14.6" height="14.6" fill="#9d9d98"/>
<rect x="501.7" y="1079.7" width="14.6" height="14.6" fill="#9d9d98"/>
<rect x="537.7" y="1076.7" width="14.6" height="14.6" fill="#9d9d98"/>
<rect x="572.7" y="1070.7" width="14.6" height="14.6" fill="#9d9d98"/>
<rect x="607.7" y="1063.7" width="14.6" height="14.6" fill="#9d9d98"/>
<rect x="641.7" y="1052.7" width="14.6" height="14.6" fill="#9d9d98"/>
<rect x="674.7" y="1041.7" width="14.6" height="14.6" fill="#9d9d98"/>
<rect x="707.7" y="1030.7" width="14.6" height="14.6" fill="#9d9d98"/>
<rect x="739.7" y="1020.7" width="14.6" height="14.6" fill="#9d9d98"/>
<path d="M103,1177 104.5,1172 107.6,1168.3 112.5,1164.5 119,1160.8 126.6,1157.3 134.2,1154.4 141,1152 179,1137 216,1129 253,1124 289,1121 325,1117 360,1112 395,1107 438,1103 475,1101 512,1095 548,1090 590,1082 627,1078 661.6,1073.6" fill="none" stroke="#9d9d98" stroke-width="4.5" stroke-linejoin="round"/>
<rect x="95.7" y="1169.7" width="14.6" height="14.6" fill="#9d9d98"/>
<rect x="133.7" y="1144.7" width="14.6" height="14.6" fill="#9d9d98"/>
<rect x="171.7" y="1129.7" width="14.6" height="14.6" fill="#9d9d98"/>
<rect x="208.7" y="1121.7" width="14.6" height="14.6" fill="#9d9d98"/>
<rect x="245.7" y="1116.7" width="14.6" height="14.6" fill="#9d9d98"/>
<rect x="281.7" y="1113.7" width="14.6" height="14.6" fill="#9d9d98"/>
<rect x="317.7" y="1109.7" width="14.6" height="14.6" fill="#9d9d98"/>
<rect x="352.7" y="1104.7" width="14.6" height="14.6" fill="#9d9d98"/>
<rect x="387.7" y="1099.7" width="14.6" height="14.6" fill="#9d9d98"/>
<rect x="430.7" y="1095.7" width="14.6" height="14.6" fill="#9d9d98"/>
<rect x="467.7" y="1093.7" width="14.6" height="14.6" fill="#9d9d98"/>
<rect x="504.7" y="1087.7" width="14.6" height="14.6" fill="#9d9d98"/>
<rect x="540.7" y="1082.7" width="14.6" height="14.6" fill="#9d9d98"/>
<rect x="582.7" y="1074.7" width="14.6" height="14.6" fill="#9d9d98"/>
<rect x="619.7" y="1070.7" width="14.6" height="14.6" fill="#9d9d98"/>
<rect x="654.3" y="1066.3" width="14.6" height="14.6" fill="#9d9d98"/>
<path d="M103,1177 104.6,1171.1 107.7,1166.8 112.8,1162.2 119.4,1157.9 127.2,1153.8 135,1150.3 142,1147.5 182,1139 223,1133 264,1129.5 302,1125.5 339,1121.5 378,1118 416,1114 453,1106 490,1104 526,1101 562,1096 597,1092 630,1090 664,1086 697,1084 730,1081 766,1076" fill="none" stroke="#7e7e7a" stroke-width="4.5" stroke-linejoin="round"/>
<path d="M103 1168.1L109.3 1177L103 1185.9L96.7 1177Z" fill="none" stroke="#7e7e7a" stroke-width="4.4"/>
<path d="M142 1138.6L148.3 1147.5L142 1156.4L135.7 1147.5Z" fill="none" stroke="#7e7e7a" stroke-width="4.4"/>
<path d="M182 1130.1L188.3 1139L182 1147.9L175.7 1139Z" fill="none" stroke="#7e7e7a" stroke-width="4.4"/>
<path d="M223 1124.1L229.3 1133L223 1141.9L216.7 1133Z" fill="none" stroke="#7e7e7a" stroke-width="4.4"/>
<path d="M264 1120.6L270.3 1129.5L264 1138.4L257.7 1129.5Z" fill="none" stroke="#7e7e7a" stroke-width="4.4"/>
<path d="M302 1116.6L308.3 1125.5L302 1134.4L295.7 1125.5Z" fill="none" stroke="#7e7e7a" stroke-width="4.4"/>
<path d="M339 1112.6L345.3 1121.5L339 1130.4L332.7 1121.5Z" fill="none" stroke="#7e7e7a" stroke-width="4.4"/>
<path d="M378 1109.1L384.3 1118L378 1126.9L371.7 1118Z" fill="none" stroke="#7e7e7a" stroke-width="4.4"/>
<path d="M416 1105.1L422.3 1114L416 1122.9L409.7 1114Z" fill="none" stroke="#7e7e7a" stroke-width="4.4"/>
<path d="M453 1097.1L459.3 1106L453 1114.9L446.7 1106Z" fill="none" stroke="#7e7e7a" stroke-width="4.4"/>
<path d="M490 1095.1L496.3 1104L490 1112.9L483.7 1104Z" fill="none" stroke="#7e7e7a" stroke-width="4.4"/>
<path d="M526 1092.1L532.3 1101L526 1109.9L519.7 1101Z" fill="none" stroke="#7e7e7a" stroke-width="4.4"/>
<path d="M562 1087.1L568.3 1096L562 1104.9L555.7 1096Z" fill="none" stroke="#7e7e7a" stroke-width="4.4"/>
<path d="M597 1083.1L603.3 1092L597 1100.9L590.7 1092Z" fill="none" stroke="#7e7e7a" stroke-width="4.4"/>
<path d="M630 1081.1L636.3 1090L630 1098.9L623.7 1090Z" fill="none" stroke="#7e7e7a" stroke-width="4.4"/>
<path d="M664 1077.1L670.3 1086L664 1094.9L657.7 1086Z" fill="none" stroke="#7e7e7a" stroke-width="4.4"/>
<path d="M697 1075.1L703.3 1084L697 1092.9L690.7 1084Z" fill="none" stroke="#7e7e7a" stroke-width="4.4"/>
<path d="M730 1072.1L736.3 1081L730 1089.9L723.7 1081Z" fill="none" stroke="#7e7e7a" stroke-width="4.4"/>
<path d="M766 1067.1L772.3 1076L766 1084.9L759.7 1076Z" fill="none" stroke="#7e7e7a" stroke-width="4.4"/>
<path d="M103,1177 104.6,1170.5 107.7,1165.7 112.8,1160.8 119.4,1155.9 127.2,1151.4 135,1147.6 142,1144.5 182,1136.5 223,1130 264,1127 302,1122.5 339,1118.5 378,1116 416,1111 453,1103 490,1101 526,1098 562,1093 597,1089 630,1087 664,1083 697,1077 728,1070 760,1063 789,1056 819,1046 848,1035 876,1021" fill="none" stroke="#7e7e7a" stroke-width="4.5" stroke-linejoin="round"/>
<path d="M103 1168.1L109.3 1177L103 1185.9L96.7 1177Z" fill="none" stroke="#7e7e7a" stroke-width="4.4"/>
<path d="M142 1135.6L148.3 1144.5L142 1153.4L135.7 1144.5Z" fill="none" stroke="#7e7e7a" stroke-width="4.4"/>
<path d="M182 1127.6L188.3 1136.5L182 1145.4L175.7 1136.5Z" fill="none" stroke="#7e7e7a" stroke-width="4.4"/>
<path d="M223 1121.1L229.3 1130L223 1138.9L216.7 1130Z" fill="none" stroke="#7e7e7a" stroke-width="4.4"/>
<path d="M264 1118.1L270.3 1127L264 1135.9L257.7 1127Z" fill="none" stroke="#7e7e7a" stroke-width="4.4"/>
<path d="M302 1113.6L308.3 1122.5L302 1131.4L295.7 1122.5Z" fill="none" stroke="#7e7e7a" stroke-width="4.4"/>
<path d="M339 1109.6L345.3 1118.5L339 1127.4L332.7 1118.5Z" fill="none" stroke="#7e7e7a" stroke-width="4.4"/>
<path d="M378 1107.1L384.3 1116L378 1124.9L371.7 1116Z" fill="none" stroke="#7e7e7a" stroke-width="4.4"/>
<path d="M416 1102.1L422.3 1111L416 1119.9L409.7 1111Z" fill="none" stroke="#7e7e7a" stroke-width="4.4"/>
<path d="M453 1094.1L459.3 1103L453 1111.9L446.7 1103Z" fill="none" stroke="#7e7e7a" stroke-width="4.4"/>
<path d="M490 1092.1L496.3 1101L490 1109.9L483.7 1101Z" fill="none" stroke="#7e7e7a" stroke-width="4.4"/>
<path d="M526 1089.1L532.3 1098L526 1106.9L519.7 1098Z" fill="none" stroke="#7e7e7a" stroke-width="4.4"/>
<path d="M562 1084.1L568.3 1093L562 1101.9L555.7 1093Z" fill="none" stroke="#7e7e7a" stroke-width="4.4"/>
<path d="M597 1080.1L603.3 1089L597 1097.9L590.7 1089Z" fill="none" stroke="#7e7e7a" stroke-width="4.4"/>
<path d="M630 1078.1L636.3 1087L630 1095.9L623.7 1087Z" fill="none" stroke="#7e7e7a" stroke-width="4.4"/>
<path d="M664 1074.1L670.3 1083L664 1091.9L657.7 1083Z" fill="none" stroke="#7e7e7a" stroke-width="4.4"/>
<path d="M697 1068.1L703.3 1077L697 1085.9L690.7 1077Z" fill="none" stroke="#7e7e7a" stroke-width="4.4"/>
<path d="M728 1061.1L734.3 1070L728 1078.9L721.7 1070Z" fill="none" stroke="#7e7e7a" stroke-width="4.4"/>
<path d="M760 1054.1L766.3 1063L760 1071.9L753.7 1063Z" fill="none" stroke="#7e7e7a" stroke-width="4.4"/>
<path d="M789 1047.1L795.3 1056L789 1064.9L782.7 1056Z" fill="none" stroke="#7e7e7a" stroke-width="4.4"/>
<path d="M819 1037.1L825.3 1046L819 1054.9L812.7 1046Z" fill="none" stroke="#7e7e7a" stroke-width="4.4"/>
<path d="M848 1026.1L854.3 1035L848 1043.9L841.7 1035Z" fill="none" stroke="#7e7e7a" stroke-width="4.4"/>
<path d="M876 1012.1L882.3 1021L876 1029.9L869.7 1021Z" fill="none" stroke="#7e7e7a" stroke-width="4.4"/>
<path d="M103,1177 143,1170 182,1163 215,1156 250,1150 286,1145 322,1141 357,1136 392,1131 427,1132 461,1130 496,1128 530,1127 564,1124.5 600,1121.5 634,1117 666,1112 699,1110 733,1105 765,1098 797,1092 827,1086 857,1078 886,1066 912,1057" fill="none" stroke="#5f5f5f" stroke-width="4.5" stroke-linejoin="round"/>
<circle cx="103" cy="1177" r="7" fill="none" stroke="#5f5f5f" stroke-width="4.4"/>
<circle cx="143" cy="1170" r="7" fill="none" stroke="#5f5f5f" stroke-width="4.4"/>
<circle cx="182" cy="1163" r="7" fill="none" stroke="#5f5f5f" stroke-width="4.4"/>
<circle cx="215" cy="1156" r="7" fill="none" stroke="#5f5f5f" stroke-width="4.4"/>
<circle cx="250" cy="1150" r="7" fill="none" stroke="#5f5f5f" stroke-width="4.4"/>
<circle cx="286" cy="1145" r="7" fill="none" stroke="#5f5f5f" stroke-width="4.4"/>
<circle cx="322" cy="1141" r="7" fill="none" stroke="#5f5f5f" stroke-width="4.4"/>
<circle cx="357" cy="1136" r="7" fill="none" stroke="#5f5f5f" stroke-width="4.4"/>
<circle cx="392" cy="1131" r="7" fill="none" stroke="#5f5f5f" stroke-width="4.4"/>
<circle cx="427" cy="1132" r="7" fill="none" stroke="#5f5f5f" stroke-width="4.4"/>
<circle cx="461" cy="1130" r="7" fill="none" stroke="#5f5f5f" stroke-width="4.4"/>
<circle cx="496" cy="1128" r="7" fill="none" stroke="#5f5f5f" stroke-width="4.4"/>
<circle cx="530" cy="1127" r="7" fill="none" stroke="#5f5f5f" stroke-width="4.4"/>
<circle cx="564" cy="1124.5" r="7" fill="none" stroke="#5f5f5f" stroke-width="4.4"/>
<circle cx="600" cy="1121.5" r="7" fill="none" stroke="#5f5f5f" stroke-width="4.4"/>
<circle cx="634" cy="1117" r="7" fill="none" stroke="#5f5f5f" stroke-width="4.4"/>
<circle cx="666" cy="1112" r="7" fill="none" stroke="#5f5f5f" stroke-width="4.4"/>
<circle cx="699" cy="1110" r="7" fill="none" stroke="#5f5f5f" stroke-width="4.4"/>
<circle cx="733" cy="1105" r="7" fill="none" stroke="#5f5f5f" stroke-width="4.4"/>
<circle cx="765" cy="1098" r="7" fill="none" stroke="#5f5f5f" stroke-width="4.4"/>
<circle cx="797" cy="1092" r="7" fill="none" stroke="#5f5f5f" stroke-width="4.4"/>
<circle cx="827" cy="1086" r="7" fill="none" stroke="#5f5f5f" stroke-width="4.4"/>
<circle cx="857" cy="1078" r="7" fill="none" stroke="#5f5f5f" stroke-width="4.4"/>
<circle cx="886" cy="1066" r="7" fill="none" stroke="#5f5f5f" stroke-width="4.4"/>
<path d="M103,1177 143.6,1172 184,1165 225.5,1160 266,1154 305,1148 343,1143 380,1138 416,1135 452,1129 487,1125 522,1122 556,1118 590,1114 623,1109 652,1107 679,1104 709,1100 735,1097" fill="none" stroke="#5f5f5f" stroke-width="4.5" stroke-linejoin="round"/>
<circle cx="103" cy="1177" r="7" fill="none" stroke="#5f5f5f" stroke-width="4.4"/>
<circle cx="143.6" cy="1172" r="7" fill="none" stroke="#5f5f5f" stroke-width="4.4"/>
<circle cx="184" cy="1165" r="7" fill="none" stroke="#5f5f5f" stroke-width="4.4"/>
<circle cx="225.5" cy="1160" r="7" fill="none" stroke="#5f5f5f" stroke-width="4.4"/>
<circle cx="266" cy="1154" r="7" fill="none" stroke="#5f5f5f" stroke-width="4.4"/>
<circle cx="305" cy="1148" r="7" fill="none" stroke="#5f5f5f" stroke-width="4.4"/>
<circle cx="343" cy="1143" r="7" fill="none" stroke="#5f5f5f" stroke-width="4.4"/>
<circle cx="380" cy="1138" r="7" fill="none" stroke="#5f5f5f" stroke-width="4.4"/>
<circle cx="416" cy="1135" r="7" fill="none" stroke="#5f5f5f" stroke-width="4.4"/>
<circle cx="452" cy="1129" r="7" fill="none" stroke="#5f5f5f" stroke-width="4.4"/>
<circle cx="487" cy="1125" r="7" fill="none" stroke="#5f5f5f" stroke-width="4.4"/>
<circle cx="522" cy="1122" r="7" fill="none" stroke="#5f5f5f" stroke-width="4.4"/>
<circle cx="556" cy="1118" r="7" fill="none" stroke="#5f5f5f" stroke-width="4.4"/>
<circle cx="590" cy="1114" r="7" fill="none" stroke="#5f5f5f" stroke-width="4.4"/>
<circle cx="623" cy="1109" r="7" fill="none" stroke="#5f5f5f" stroke-width="4.4"/>
<circle cx="652" cy="1107" r="7" fill="none" stroke="#5f5f5f" stroke-width="4.4"/>
<circle cx="679" cy="1104" r="7" fill="none" stroke="#5f5f5f" stroke-width="4.4"/>
<circle cx="709" cy="1100" r="7" fill="none" stroke="#5f5f5f" stroke-width="4.4"/>
<path d="M103,1177 142.7,1169 183.2,1162 222.8,1157 262,1151 301,1145 339,1140 377,1135 414,1132 451,1126 487,1122 522,1119 557.6,1115 591,1111 624.8,1106 656.8,1104 688.8,1100 720.8,1097 750.4,1092 781,1085 810.4,1080 839.6,1075 867.6,1067" fill="none" stroke="#404040" stroke-width="5.0" stroke-linejoin="round"/>
<path d="M103 1165.1L106.4 1171L113.3 1171L109.9 1177L113.3 1183L106.4 1183L103 1188.9L99.6 1183L92.7 1183L96.1 1177L92.7 1171L99.6 1171Z" fill="#404040"/>
<path d="M142.7 1157.1L146.1 1163L153 1163L149.6 1169L153 1175L146.1 1175L142.7 1180.9L139.3 1175L132.4 1175L135.8 1169L132.4 1163L139.3 1163Z" fill="#404040"/>
<path d="M183.2 1150.1L186.6 1156L193.5 1156L190.1 1162L193.5 1168L186.6 1168L183.2 1173.9L179.8 1168L172.9 1168L176.3 1162L172.9 1156L179.8 1156Z" fill="#404040"/>
<path d="M222.8 1145.1L226.2 1151L233.1 1151L229.7 1157L233.1 1163L226.2 1163L222.8 1168.9L219.4 1163L212.5 1163L215.9 1157L212.5 1151L219.4 1151Z" fill="#404040"/>
<path d="M262 1139.1L265.4 1145L272.3 1145L268.9 1151L272.3 1157L265.4 1157L262 1162.9L258.6 1157L251.7 1157L255.1 1151L251.7 1145L258.6 1145Z" fill="#404040"/>
<path d="M301 1133.1L304.4 1139L311.3 1139L307.9 1145L311.3 1151L304.4 1151L301 1156.9L297.6 1151L290.7 1151L294.1 1145L290.7 1139L297.6 1139Z" fill="#404040"/>
<path d="M339 1128.1L342.4 1134L349.3 1134L345.9 1140L349.3 1146L342.4 1146L339 1151.9L335.6 1146L328.7 1146L332.1 1140L328.7 1134L335.6 1134Z" fill="#404040"/>
<path d="M377 1123.1L380.4 1129L387.3 1129L383.9 1135L387.3 1141L380.4 1141L377 1146.9L373.6 1141L366.7 1141L370.1 1135L366.7 1129L373.6 1129Z" fill="#404040"/>
<path d="M414 1120.1L417.4 1126L424.3 1126L420.9 1132L424.3 1138L417.4 1138L414 1143.9L410.6 1138L403.7 1138L407.1 1132L403.7 1126L410.6 1126Z" fill="#404040"/>
<path d="M451 1114.1L454.4 1120L461.3 1120L457.9 1126L461.3 1132L454.4 1132L451 1137.9L447.6 1132L440.7 1132L444.1 1126L440.7 1120L447.6 1120Z" fill="#404040"/>
<path d="M487 1110.1L490.4 1116L497.3 1116L493.9 1122L497.3 1128L490.4 1128L487 1133.9L483.6 1128L476.7 1128L480.1 1122L476.7 1116L483.6 1116Z" fill="#404040"/>
<path d="M522 1107.1L525.4 1113L532.3 1113L528.9 1119L532.3 1125L525.4 1125L522 1130.9L518.6 1125L511.7 1125L515.1 1119L511.7 1113L518.6 1113Z" fill="#404040"/>
<path d="M557.6 1103.1L561 1109L567.9 1109L564.5 1115L567.9 1121L561 1121L557.6 1126.9L554.2 1121L547.3 1121L550.7 1115L547.3 1109L554.2 1109Z" fill="#404040"/>
<path d="M591 1099.1L594.4 1105L601.3 1105L597.9 1111L601.3 1117L594.4 1117L591 1122.9L587.6 1117L580.7 1117L584.1 1111L580.7 1105L587.6 1105Z" fill="#404040"/>
<path d="M624.8 1094.1L628.2 1100L635.1 1100L631.7 1106L635.1 1112L628.2 1112L624.8 1117.9L621.4 1112L614.5 1112L617.9 1106L614.5 1100L621.4 1100Z" fill="#404040"/>
<path d="M656.8 1092.1L660.2 1098L667.1 1098L663.7 1104L667.1 1110L660.2 1110L656.8 1115.9L653.4 1110L646.5 1110L649.9 1104L646.5 1098L653.4 1098Z" fill="#404040"/>
<path d="M688.8 1088.1L692.2 1094L699.1 1094L695.7 1100L699.1 1106L692.2 1106L688.8 1111.9L685.4 1106L678.5 1106L681.9 1100L678.5 1094L685.4 1094Z" fill="#404040"/>
<path d="M720.8 1085.1L724.2 1091L731.1 1091L727.7 1097L731.1 1103L724.2 1103L720.8 1108.9L717.4 1103L710.5 1103L713.9 1097L710.5 1091L717.4 1091Z" fill="#404040"/>
<path d="M750.4 1080.1L753.8 1086L760.7 1086L757.3 1092L760.7 1098L753.8 1098L750.4 1103.9L747 1098L740.1 1098L743.5 1092L740.1 1086L747 1086Z" fill="#404040"/>
<path d="M781 1073.1L784.4 1079L791.3 1079L787.9 1085L791.3 1091L784.4 1091L781 1096.9L777.6 1091L770.7 1091L774.1 1085L770.7 1079L777.6 1079Z" fill="#404040"/>
<path d="M810.4 1068.1L813.8 1074L820.7 1074L817.3 1080L820.7 1086L813.8 1086L810.4 1091.9L807 1086L800.1 1086L803.5 1080L800.1 1074L807 1074Z" fill="#404040"/>
<path d="M839.6 1063.1L843 1069L849.9 1069L846.5 1075L849.9 1081L843 1081L839.6 1086.9L836.2 1081L829.3 1081L832.7 1075L829.3 1069L836.2 1069Z" fill="#404040"/>
<path d="M867.6 1055.1L871 1061L877.9 1061L874.5 1067L877.9 1073L871 1073L867.6 1078.9L864.2 1073L857.3 1073L860.7 1067L857.3 1061L864.2 1061Z" fill="#404040"/>
<rect x="102.4" y="682.4" width="863.8" height="495.4" fill="none" stroke="#262626" stroke-width="1.3"/>
<path d="M102.4 1177.8V1168.8M102.4 682.4V691.4" stroke="#262626" stroke-width="1.3"/>
<text x="102.4" y="1210.8" text-anchor="middle" class="tk">0</text>
<path d="M318.4 1177.8V1168.8M318.4 682.4V691.4" stroke="#262626" stroke-width="1.3"/>
<text x="318.4" y="1210.8" text-anchor="middle" class="tk">500</text>
<path d="M534.3 1177.8V1168.8M534.3 682.4V691.4" stroke="#262626" stroke-width="1.3"/>
<text x="534.3" y="1210.8" text-anchor="middle" class="tk">1000</text>
<path d="M750.2 1177.8V1168.8M750.2 682.4V691.4" stroke="#262626" stroke-width="1.3"/>
<text x="750.2" y="1210.8" text-anchor="middle" class="tk">1500</text>
<path d="M966.2 1177.8V1168.8M966.2 682.4V691.4" stroke="#262626" stroke-width="1.3"/>
<text x="966.2" y="1210.8" text-anchor="middle" class="tk">2000</text>
<path d="M102.4 1177.8H111.4M966.2 1177.8H957.2" stroke="#262626" stroke-width="1.3"/>
<text x="92.2" y="1184.9" text-anchor="end" class="tk">0</text>
<path d="M102.4 1054H111.4M966.2 1054H957.2" stroke="#262626" stroke-width="1.3"/>
<text x="92.2" y="1061" text-anchor="end" class="tk">100</text>
<path d="M102.4 930.1H111.4M966.2 930.1H957.2" stroke="#262626" stroke-width="1.3"/>
<text x="92.2" y="937.2" text-anchor="end" class="tk">200</text>
<path d="M102.4 806.2H111.4M966.2 806.2H957.2" stroke="#262626" stroke-width="1.3"/>
<text x="92.2" y="813.4" text-anchor="end" class="tk">300</text>
<path d="M102.4 682.4H111.4M966.2 682.4H957.2" stroke="#262626" stroke-width="1.3"/>
<text x="92.2" y="689.5" text-anchor="end" class="tk">400</text>
<rect x="132.5" y="705.8" width="192.1" height="307.6" fill="#fff" stroke="#262626" stroke-width="1.3"/>
<path d="M139.8,723.7 207.6,723.7" fill="none" stroke="#cfcdc3" stroke-width="4.5" stroke-linejoin="round"/>
<path d="M167.1 712.2L183.4 723.7L167.1 735.2Z" fill="#cfcdc3"/>
<text x="213.5" y="731.3" class="lg" textLength="81.5" lengthAdjust="spacingAndGlyphs">6.9 kPa</text>
<path d="M139.8,753.9 207.6,753.9" fill="none" stroke="#b9b8b1" stroke-width="4.5" stroke-linejoin="round"/>
<circle cx="173.5" cy="753.9" r="6.8" fill="#b9b8b1"/>
<text x="213.5" y="761.5" class="lg" textLength="93" lengthAdjust="spacingAndGlyphs">34.5 kPa</text>
<path d="M139.8,784 207.6,784" fill="none" stroke="#b9b8b1" stroke-width="4.5" stroke-linejoin="round"/>
<circle cx="173.5" cy="784" r="6.8" fill="#b9b8b1"/>
<text x="213.5" y="791.6" class="lg" textLength="93" lengthAdjust="spacingAndGlyphs">34.5 kPa</text>
<path d="M139.8,814.2 207.6,814.2" fill="none" stroke="#9d9d98" stroke-width="4.5" stroke-linejoin="round"/>
<rect x="166.2" y="806.9" width="14.6" height="14.6" fill="#9d9d98"/>
<text x="213.5" y="821.8" class="lg" textLength="93" lengthAdjust="spacingAndGlyphs">68.9 kPa</text>
<path d="M139.8,844.4 207.6,844.4" fill="none" stroke="#9d9d98" stroke-width="4.5" stroke-linejoin="round"/>
<rect x="166.2" y="837.1" width="14.6" height="14.6" fill="#9d9d98"/>
<text x="213.5" y="852" class="lg" textLength="93" lengthAdjust="spacingAndGlyphs">68.9 kPa</text>
<path d="M139.8,874.6 207.6,874.6" fill="none" stroke="#7e7e7a" stroke-width="4.5" stroke-linejoin="round"/>
<path d="M173.5 865.7L179.8 874.6L173.5 883.5L167.2 874.6Z" fill="none" stroke="#7e7e7a" stroke-width="4.4"/>
<text x="213.5" y="882.2" class="lg" textLength="104.5" lengthAdjust="spacingAndGlyphs">103.4 kPa</text>
<path d="M139.8,904.7 207.6,904.7" fill="none" stroke="#7e7e7a" stroke-width="4.5" stroke-linejoin="round"/>
<path d="M173.5 895.8L179.8 904.7L173.5 913.6L167.2 904.7Z" fill="none" stroke="#7e7e7a" stroke-width="4.4"/>
<text x="213.5" y="912.3" class="lg" textLength="104.5" lengthAdjust="spacingAndGlyphs">103.4 kPa</text>
<path d="M139.8,934.9 207.6,934.9" fill="none" stroke="#5f5f5f" stroke-width="4.5" stroke-linejoin="round"/>
<circle cx="173.5" cy="934.9" r="7" fill="none" stroke="#5f5f5f" stroke-width="4.4"/>
<text x="213.5" y="942.5" class="lg" textLength="104.5" lengthAdjust="spacingAndGlyphs">137.9 kPa</text>
<path d="M139.8,965.1 207.6,965.1" fill="none" stroke="#5f5f5f" stroke-width="4.5" stroke-linejoin="round"/>
<circle cx="173.5" cy="965.1" r="7" fill="none" stroke="#5f5f5f" stroke-width="4.4"/>
<text x="213.5" y="972.7" class="lg" textLength="104.5" lengthAdjust="spacingAndGlyphs">137.9 kPa</text>
<path d="M139.8,995.2 207.6,995.2" fill="none" stroke="#404040" stroke-width="5.0" stroke-linejoin="round"/>
<path d="M173.5 983.3L176.9 989.3L183.8 989.3L180.4 995.2L183.8 1001.2L176.9 1001.2L173.5 1007.1L170.1 1001.2L163.2 1001.2L166.6 995.2L163.2 989.3L170.1 989.3Z" fill="#404040"/>
<text x="213.5" y="1002.8" class="lg" textLength="104.5" lengthAdjust="spacingAndGlyphs">172.4 kPa</text>
<path d="M376.8,940.2 379.8,941.3 382.8,942.5 385.8,943.7 388.8,944.9 391.8,946.2 394.8,947.6 397.8,949 400.8,950.4 403.8,951.9 406.8,953.4 409.8,955 412.8,956.6 415.8,958.3 418.8,960 421.8,961.8 424.8,963.6 427.8,965.5 430.8,967.4 433.8,969.3 436.8,971.4 439.8,973.4 442.8,975.5 445.8,977.7 448.8,979.9 451.8,982.1 454.8,984.4 457.8,986.7 460.8,989.1 463.8,991.6 466.8,994.1 469.8,996.6 472.8,999.2 475.8,1001.8 478.8,1004.5 481.8,1007.2 484.8,1010 487.8,1012.8 490.8,1015.7 493.8,1018.6 496.8,1021.6 499.8,1024.6 502.8,1027.7 505.8,1030.8 508.8,1034 511.8,1037.3 514.8,1040.5 517.8,1043.9 520.8,1047.2 523.8,1050.7 526.8,1054.1 529.8,1057.7 532.8,1061.2 535.8,1064.9 538.8,1068.6 541.8,1072.3 544.8,1076.1 547.8,1079.9 550.8,1083.8 553.8,1087.7 556.8,1091.7 559.8,1095.7 562.8,1099.8 565.8,1104 568.8,1108.2 571.8,1112.4 574.8,1116.7 577.8,1121 580.8,1125.4 583.7,1129.9 586.7,1134.4 589.7,1139 592.7,1143.6" fill="none" stroke="#4472c4" stroke-width="3.6"/><path d="M601.8 1157.9L578.7 1144.5L592.7 1144.3L598.3 1131.4Z" fill="#4472c4"/>
<text x="614.4" y="1161.7" class="an">Higher pressure</text>
<text x="403.5" y="1247.8" class="lb" textLength="260" lengthAdjust="spacingAndGlyphs">Ah throughput [Ah]</text>
<text transform="translate(34.5,931.1) rotate(-90)" text-anchor="middle" class="lb" textLength="360" lengthAdjust="spacingAndGlyphs">Irreversible Expansion [<tspan font-style="italic">μm</tspan>]</text>
<path d="M120,1284 160,1296 195,1308 235,1327 265,1348 300,1374 335,1395 372,1413 421,1453 482,1491 537,1529 626.5,1566.5 712,1602.6 786,1640 849,1677 889,1713 923,1737" fill="none" stroke="#cfcdc3" stroke-width="4.5" stroke-linejoin="round"/>
<path d="M186 1297L206.2 1308L186 1319Z" fill="#cfcdc3"/>
<path d="M225.8 1315.9L246 1326.9L225.8 1337.9Z" fill="#cfcdc3"/>
<path d="M256.7 1337.5L276.9 1348.5L256.7 1359.5Z" fill="#cfcdc3"/>
<path d="M291.2 1363.1L311.4 1374.1L291.2 1385.1Z" fill="#cfcdc3"/>
<path d="M363.7 1402.6L383.9 1413.6L363.7 1424.6Z" fill="#cfcdc3"/>
<path d="M413.3 1442.8L433.5 1453.8L413.3 1464.8Z" fill="#cfcdc3"/>
<path d="M473.7 1480.5L493.9 1491.5L473.7 1502.5Z" fill="#cfcdc3"/>
<path d="M528.5 1518.2L548.7 1529.2L528.5 1540.2Z" fill="#cfcdc3"/>
<path d="M618.4 1555.9L638.6 1566.9L618.4 1577.9Z" fill="#cfcdc3"/>
<path d="M704.4 1592.3L724.6 1603.3L704.4 1614.3Z" fill="#cfcdc3"/>
<path d="M776.4 1628.7L796.6 1639.7L776.4 1650.7Z" fill="#cfcdc3"/>
<path d="M838.5 1665.1L858.7 1676.1L838.5 1687.1Z" fill="#cfcdc3"/>
<path d="M879.4 1701.5L899.6 1712.5L879.4 1723.5Z" fill="#cfcdc3"/>
<path d="M128,1283 190,1298 240,1322 280,1350 299,1375 334,1400 370,1425 400,1448 430,1470 460,1500 496,1531 526,1544.5 565,1556.5 577,1567 586,1571.5 620,1587 655,1601.5" fill="none" stroke="#b9b8b1" stroke-width="4.5" stroke-linejoin="round"/>
<circle cx="188.8" cy="1297.7" r="6.8" fill="#b9b8b1"/>
<circle cx="225.2" cy="1314.9" r="6.8" fill="#b9b8b1"/>
<circle cx="253.7" cy="1331.6" r="6.8" fill="#b9b8b1"/>
<circle cx="277.3" cy="1348.1" r="6.8" fill="#b9b8b1"/>
<circle cx="290.4" cy="1363.7" r="6.8" fill="#b9b8b1"/>
<circle cx="303.3" cy="1378.1" r="6.8" fill="#b9b8b1"/>
<circle cx="325.7" cy="1394.1" r="6.8" fill="#b9b8b1"/>
<circle cx="347.1" cy="1409.1" r="6.8" fill="#b9b8b1"/>
<circle cx="371.4" cy="1426.1" r="6.8" fill="#b9b8b1"/>
<circle cx="391" cy="1441.1" r="6.8" fill="#b9b8b1"/>
<circle cx="420.3" cy="1462.9" r="6.8" fill="#b9b8b1"/>
<circle cx="442.1" cy="1482.1" r="6.8" fill="#b9b8b1"/>
<circle cx="459.7" cy="1499.7" r="6.8" fill="#b9b8b1"/>
<circle cx="483.8" cy="1520.5" r="6.8" fill="#b9b8b1"/>
<circle cx="522.4" cy="1542.9" r="6.8" fill="#b9b8b1"/>
<circle cx="586.4" cy="1571.7" r="6.8" fill="#b9b8b1"/>
<circle cx="652.6" cy="1600.5" r="6.8" fill="#b9b8b1"/>
<path d="M140,1286 200,1305 250,1340 285,1370 320,1400 350,1425 380,1445 400,1465 418,1481.5 460,1510 485,1530 503.5,1549 527.5,1564 586,1597 640,1630 667,1645" fill="none" stroke="#b9b8b1" stroke-width="4.5" stroke-linejoin="round"/>
<circle cx="181.4" cy="1299.1" r="6.8" fill="#b9b8b1"/>
<circle cx="215.9" cy="1316.1" r="6.8" fill="#b9b8b1"/>
<circle cx="240.1" cy="1333.1" r="6.8" fill="#b9b8b1"/>
<circle cx="261.2" cy="1349.6" r="6.8" fill="#b9b8b1"/>
<circle cx="279.3" cy="1365.1" r="6.8" fill="#b9b8b1"/>
<circle cx="296.8" cy="1380.1" r="6.8" fill="#b9b8b1"/>
<circle cx="315.4" cy="1396.1" r="6.8" fill="#b9b8b1"/>
<circle cx="333.3" cy="1411.1" r="6.8" fill="#b9b8b1"/>
<circle cx="354.6" cy="1428.1" r="6.8" fill="#b9b8b1"/>
<circle cx="378.6" cy="1444.1" r="6.8" fill="#b9b8b1"/>
<circle cx="399.6" cy="1464.6" r="6.8" fill="#b9b8b1"/>
<circle cx="423.3" cy="1485.1" r="6.8" fill="#b9b8b1"/>
<circle cx="456.6" cy="1507.7" r="6.8" fill="#b9b8b1"/>
<circle cx="486.7" cy="1531.7" r="6.8" fill="#b9b8b1"/>
<circle cx="524.5" cy="1562.1" r="6.8" fill="#b9b8b1"/>
<circle cx="586.5" cy="1597.3" r="6.8" fill="#b9b8b1"/>
<circle cx="636.2" cy="1627.7" r="6.8" fill="#b9b8b1"/>
<path d="M119,1287 153,1296 159,1302 200,1320 240,1338 290,1358 344,1382 380,1406 422,1429 453,1455 460,1473 467,1490 495,1503 516,1517 520,1527" fill="none" stroke="#9d9d98" stroke-width="4.5" stroke-linejoin="round"/>
<rect x="134.7" y="1285.8" width="14.6" height="14.6" fill="#9d9d98"/>
<rect x="158.8" y="1297.8" width="14.6" height="14.6" fill="#9d9d98"/>
<rect x="186.1" y="1309.8" width="14.6" height="14.6" fill="#9d9d98"/>
<rect x="212.9" y="1321.8" width="14.6" height="14.6" fill="#9d9d98"/>
<rect x="240.4" y="1333.8" width="14.6" height="14.6" fill="#9d9d98"/>
<rect x="270.4" y="1345.8" width="14.6" height="14.6" fill="#9d9d98"/>
<rect x="298.7" y="1357.8" width="14.6" height="14.6" fill="#9d9d98"/>
<rect x="325.7" y="1369.8" width="14.6" height="14.6" fill="#9d9d98"/>
<rect x="348.8" y="1382.8" width="14.6" height="14.6" fill="#9d9d98"/>
<rect x="368.3" y="1395.8" width="14.6" height="14.6" fill="#9d9d98"/>
<rect x="393" y="1409.8" width="14.6" height="14.6" fill="#9d9d98"/>
<rect x="417" y="1423.6" width="14.6" height="14.6" fill="#9d9d98"/>
<rect x="432.2" y="1436.4" width="14.6" height="14.6" fill="#9d9d98"/>
<rect x="446.9" y="1450.8" width="14.6" height="14.6" fill="#9d9d98"/>
<rect x="451.9" y="1463.6" width="14.6" height="14.6" fill="#9d9d98"/>
<rect x="457.6" y="1477.6" width="14.6" height="14.6" fill="#9d9d98"/>
<rect x="479.7" y="1492" width="14.6" height="14.6" fill="#9d9d98"/>
<rect x="509" y="1510.4" width="14.6" height="14.6" fill="#9d9d98"/>
<path d="M135,1283 175,1298 220,1318 260,1335 300,1352 330,1380 369,1401 396,1419 423,1434 447,1449 456,1464 462,1481" fill="none" stroke="#9d9d98" stroke-width="4.5" stroke-linejoin="round"/>
<rect x="160" y="1287.8" width="14.6" height="14.6" fill="#9d9d98"/>
<rect x="188.2" y="1299.8" width="14.6" height="14.6" fill="#9d9d98"/>
<rect x="217.6" y="1312.8" width="14.6" height="14.6" fill="#9d9d98"/>
<rect x="245.9" y="1324.8" width="14.6" height="14.6" fill="#9d9d98"/>
<rect x="274.1" y="1336.8" width="14.6" height="14.6" fill="#9d9d98"/>
<rect x="297.1" y="1348.8" width="14.6" height="14.6" fill="#9d9d98"/>
<rect x="309.9" y="1360.8" width="14.6" height="14.6" fill="#9d9d98"/>
<rect x="322.9" y="1372.8" width="14.6" height="14.6" fill="#9d9d98"/>
<rect x="347" y="1385.8" width="14.6" height="14.6" fill="#9d9d98"/>
<rect x="369.3" y="1398.8" width="14.6" height="14.6" fill="#9d9d98"/>
<rect x="390.7" y="1412.8" width="14.6" height="14.6" fill="#9d9d98"/>
<rect x="415.9" y="1426.8" width="14.6" height="14.6" fill="#9d9d98"/>
<rect x="436.7" y="1439.8" width="14.6" height="14.6" fill="#9d9d98"/>
<rect x="447" y="1453.8" width="14.6" height="14.6" fill="#9d9d98"/>
<rect x="452.6" y="1467.8" width="14.6" height="14.6" fill="#9d9d98"/>
<path d="M148,1286 192,1299 231,1312 265,1325 297,1332 330,1348 360,1365 390,1382 420,1400 450,1420 470,1434 494,1446 502,1458 520,1468 540,1480" fill="none" stroke="#7e7e7a" stroke-width="4.5" stroke-linejoin="round"/>
<path d="M148 1277.1L154.3 1286L148 1294.9L141.7 1286Z" fill="none" stroke="#7e7e7a" stroke-width="4.4"/>
<path d="M164.6 1282L170.9 1290.9L164.6 1299.8L158.3 1290.9Z" fill="none" stroke="#7e7e7a" stroke-width="4.4"/>
<path d="M200.1 1292.8L206.4 1301.7L200.1 1310.6L193.8 1301.7Z" fill="none" stroke="#7e7e7a" stroke-width="4.4"/>
<path d="M234.7 1304.5L241 1313.4L234.7 1322.3L228.4 1313.4Z" fill="none" stroke="#7e7e7a" stroke-width="4.4"/>
<path d="M265.5 1316.2L271.8 1325.1L265.5 1334L259.2 1325.1Z" fill="none" stroke="#7e7e7a" stroke-width="4.4"/>
<path d="M305.5 1327.2L311.8 1336.1L305.5 1345L299.2 1336.1Z" fill="none" stroke="#7e7e7a" stroke-width="4.4"/>
<path d="M333.7 1341.2L340 1350.1L333.7 1359L327.4 1350.1Z" fill="none" stroke="#7e7e7a" stroke-width="4.4"/>
<path d="M354.9 1353.2L361.2 1362.1L354.9 1371L348.6 1362.1Z" fill="none" stroke="#7e7e7a" stroke-width="4.4"/>
<path d="M376.1 1365.2L382.4 1374.1L376.1 1383L369.8 1374.1Z" fill="none" stroke="#7e7e7a" stroke-width="4.4"/>
<path d="M398.5 1378.2L404.8 1387.1L398.5 1396L392.2 1387.1Z" fill="none" stroke="#7e7e7a" stroke-width="4.4"/>
<path d="M420.1 1391.2L426.4 1400.1L420.1 1409L413.8 1400.1Z" fill="none" stroke="#7e7e7a" stroke-width="4.4"/>
<path d="M437.5 1402.8L443.8 1411.7L437.5 1420.6L431.2 1411.7Z" fill="none" stroke="#7e7e7a" stroke-width="4.4"/>
<path d="M454.1 1414L460.4 1422.9L454.1 1431.8L447.8 1422.9Z" fill="none" stroke="#7e7e7a" stroke-width="4.4"/>
<path d="M473.4 1426.8L479.7 1435.7L473.4 1444.6L467.1 1435.7Z" fill="none" stroke="#7e7e7a" stroke-width="4.4"/>
<path d="M494.6 1438L500.9 1446.9L494.6 1455.8L488.3 1446.9Z" fill="none" stroke="#7e7e7a" stroke-width="4.4"/>
<path d="M502.2 1449.2L508.5 1458.1L502.2 1467L495.9 1458.1Z" fill="none" stroke="#7e7e7a" stroke-width="4.4"/>
<path d="M521.2 1459.8L527.5 1468.7L521.2 1477.6L514.9 1468.7Z" fill="none" stroke="#7e7e7a" stroke-width="4.4"/>
<path d="M540 1471.1L546.3 1480L540 1488.9L533.7 1480Z" fill="none" stroke="#7e7e7a" stroke-width="4.4"/>
<path d="M231,1284 243,1292 257,1304 275,1316 293,1330 320,1345 345,1358 369,1386 393,1395 420,1404 438,1416 456,1428 474,1440 492,1449 510,1461 522,1476 534,1488 546,1503 567,1526 590,1545 612,1563 647,1582 673,1603 704,1625" fill="none" stroke="#7e7e7a" stroke-width="4.5" stroke-linejoin="round"/>
<path d="M231 1275.1L237.3 1284L231 1292.9L224.7 1284Z" fill="none" stroke="#7e7e7a" stroke-width="4.4"/>
<path d="M258.9 1296.4L265.2 1305.3L258.9 1314.2L252.6 1305.3Z" fill="none" stroke="#7e7e7a" stroke-width="4.4"/>
<path d="M275.1 1307.2L281.4 1316.1L275.1 1325L268.8 1316.1Z" fill="none" stroke="#7e7e7a" stroke-width="4.4"/>
<path d="M291.3 1319.8L297.6 1328.7L291.3 1337.6L285 1328.7Z" fill="none" stroke="#7e7e7a" stroke-width="4.4"/>
<path d="M315 1333.3L321.3 1342.2L315 1351.1L308.7 1342.2Z" fill="none" stroke="#7e7e7a" stroke-width="4.4"/>
<path d="M343.3 1348.2L349.6 1357.1L343.3 1366L337 1357.1Z" fill="none" stroke="#7e7e7a" stroke-width="4.4"/>
<path d="M356.2 1362.2L362.5 1371.1L356.2 1380L349.9 1371.1Z" fill="none" stroke="#7e7e7a" stroke-width="4.4"/>
<path d="M367.4 1375.2L373.7 1384.1L367.4 1393L361.1 1384.1Z" fill="none" stroke="#7e7e7a" stroke-width="4.4"/>
<path d="M396.3 1387.2L402.6 1396.1L396.3 1405L390 1396.1Z" fill="none" stroke="#7e7e7a" stroke-width="4.4"/>
<path d="M429.1 1401.2L435.4 1410.1L429.1 1419L422.8 1410.1Z" fill="none" stroke="#7e7e7a" stroke-width="4.4"/>
<path d="M450.1 1415.2L456.4 1424.1L450.1 1433L443.8 1424.1Z" fill="none" stroke="#7e7e7a" stroke-width="4.4"/>
<path d="M471.1 1429.2L477.4 1438.1L471.1 1447L464.8 1438.1Z" fill="none" stroke="#7e7e7a" stroke-width="4.4"/>
<path d="M503.2 1447.6L509.6 1456.5L503.2 1465.4L496.9 1456.5Z" fill="none" stroke="#7e7e7a" stroke-width="4.4"/>
<path d="M517.9 1462L524.2 1470.9L517.9 1479.8L511.6 1470.9Z" fill="none" stroke="#7e7e7a" stroke-width="4.4"/>
<path d="M531.3 1476.4L537.6 1485.3L531.3 1494.2L525 1485.3Z" fill="none" stroke="#7e7e7a" stroke-width="4.4"/>
<path d="M542.1 1489.2L548.4 1498.1L542.1 1507L535.8 1498.1Z" fill="none" stroke="#7e7e7a" stroke-width="4.4"/>
<path d="M556.1 1505.2L562.4 1514.1L556.1 1523L549.8 1514.1Z" fill="none" stroke="#7e7e7a" stroke-width="4.4"/>
<path d="M572 1521.2L578.3 1530.1L572 1539L565.7 1530.1Z" fill="none" stroke="#7e7e7a" stroke-width="4.4"/>
<path d="M592.6 1538.2L598.9 1547.1L592.6 1556L586.3 1547.1Z" fill="none" stroke="#7e7e7a" stroke-width="4.4"/>
<path d="M614.8 1555.6L621.1 1564.5L614.8 1573.4L608.5 1564.5Z" fill="none" stroke="#7e7e7a" stroke-width="4.4"/>
<path d="M648.4 1574.2L654.7 1583.1L648.4 1592L642.1 1583.1Z" fill="none" stroke="#7e7e7a" stroke-width="4.4"/>
<path d="M674.5 1595.2L680.8 1604.1L674.5 1613L668.2 1604.1Z" fill="none" stroke="#7e7e7a" stroke-width="4.4"/>
<path d="M703.3 1615.6L709.6 1624.5L703.3 1633.4L697 1624.5Z" fill="none" stroke="#7e7e7a" stroke-width="4.4"/>
<path d="M327,1283 330,1292 336,1297 343,1306 350,1319 372,1332 390,1345 400,1358 414,1371 432,1386 450,1398 471,1410 492,1422 516,1434 534,1446 553.5,1458 581.5,1469 609.5,1481 632.3,1493 648,1503 660.3,1520 676,1536 700.5,1553 721.5,1571 742.5,1590 765,1607" fill="none" stroke="#5f5f5f" stroke-width="4.5" stroke-linejoin="round"/>
<circle cx="327" cy="1283" r="7" fill="none" stroke="#5f5f5f" stroke-width="4.4"/>
<circle cx="330.1" cy="1292.1" r="7" fill="none" stroke="#5f5f5f" stroke-width="4.4"/>
<circle cx="333.7" cy="1295.1" r="7" fill="none" stroke="#5f5f5f" stroke-width="4.4"/>
<circle cx="342.7" cy="1305.6" r="7" fill="none" stroke="#5f5f5f" stroke-width="4.4"/>
<circle cx="350.2" cy="1319.1" r="7" fill="none" stroke="#5f5f5f" stroke-width="4.4"/>
<circle cx="370.5" cy="1331.1" r="7" fill="none" stroke="#5f5f5f" stroke-width="4.4"/>
<circle cx="389.4" cy="1344.6" r="7" fill="none" stroke="#5f5f5f" stroke-width="4.4"/>
<circle cx="398.5" cy="1356.1" r="7" fill="none" stroke="#5f5f5f" stroke-width="4.4"/>
<circle cx="412" cy="1369.1" r="7" fill="none" stroke="#5f5f5f" stroke-width="4.4"/>
<circle cx="429.7" cy="1384.1" r="7" fill="none" stroke="#5f5f5f" stroke-width="4.4"/>
<circle cx="448.6" cy="1397.1" r="7" fill="none" stroke="#5f5f5f" stroke-width="4.4"/>
<circle cx="474.7" cy="1412.1" r="7" fill="none" stroke="#5f5f5f" stroke-width="4.4"/>
<circle cx="503.4" cy="1427.7" r="7" fill="none" stroke="#5f5f5f" stroke-width="4.4"/>
<circle cx="528.1" cy="1442.1" r="7" fill="none" stroke="#5f5f5f" stroke-width="4.4"/>
<circle cx="548.5" cy="1454.9" r="7" fill="none" stroke="#5f5f5f" stroke-width="4.4"/>
<circle cx="576.2" cy="1466.9" r="7" fill="none" stroke="#5f5f5f" stroke-width="4.4"/>
<circle cx="604.6" cy="1478.9" r="7" fill="none" stroke="#5f5f5f" stroke-width="4.4"/>
<circle cx="631.3" cy="1492.5" r="7" fill="none" stroke="#5f5f5f" stroke-width="4.4"/>
<circle cx="648.1" cy="1503.1" r="7" fill="none" stroke="#5f5f5f" stroke-width="4.4"/>
<circle cx="660.4" cy="1520.1" r="7" fill="none" stroke="#5f5f5f" stroke-width="4.4"/>
<circle cx="676.1" cy="1536.1" r="7" fill="none" stroke="#5f5f5f" stroke-width="4.4"/>
<circle cx="700.4" cy="1552.9" r="7" fill="none" stroke="#5f5f5f" stroke-width="4.4"/>
<circle cx="721.6" cy="1571.1" r="7" fill="none" stroke="#5f5f5f" stroke-width="4.4"/>
<circle cx="742.2" cy="1589.7" r="7" fill="none" stroke="#5f5f5f" stroke-width="4.4"/>
<path d="M254,1284 263,1296 290,1308 315,1319 333,1329 343,1335 362,1348 386,1360 405,1372 425,1386 445,1399 466,1412 488,1426 508,1440 536,1454 558.8,1471.5 579.8,1485.5 599,1497.8 620,1511.8" fill="none" stroke="#5f5f5f" stroke-width="4.5" stroke-linejoin="round"/>
<circle cx="254" cy="1284" r="7" fill="none" stroke="#5f5f5f" stroke-width="4.4"/>
<circle cx="267.7" cy="1298.1" r="7" fill="none" stroke="#5f5f5f" stroke-width="4.4"/>
<circle cx="298.2" cy="1311.6" r="7" fill="none" stroke="#5f5f5f" stroke-width="4.4"/>
<circle cx="322.7" cy="1323.3" r="7" fill="none" stroke="#5f5f5f" stroke-width="4.4"/>
<circle cx="344.3" cy="1335.9" r="7" fill="none" stroke="#5f5f5f" stroke-width="4.4"/>
<circle cx="364.2" cy="1349.1" r="7" fill="none" stroke="#5f5f5f" stroke-width="4.4"/>
<circle cx="389.3" cy="1362.1" r="7" fill="none" stroke="#5f5f5f" stroke-width="4.4"/>
<circle cx="409.4" cy="1375.1" r="7" fill="none" stroke="#5f5f5f" stroke-width="4.4"/>
<circle cx="428.2" cy="1388.1" r="7" fill="none" stroke="#5f5f5f" stroke-width="4.4"/>
<circle cx="448.4" cy="1401.1" r="7" fill="none" stroke="#5f5f5f" stroke-width="4.4"/>
<circle cx="470.9" cy="1415.1" r="7" fill="none" stroke="#5f5f5f" stroke-width="4.4"/>
<circle cx="492.4" cy="1429.1" r="7" fill="none" stroke="#5f5f5f" stroke-width="4.4"/>
<circle cx="514.2" cy="1443.1" r="7" fill="none" stroke="#5f5f5f" stroke-width="4.4"/>
<circle cx="540" cy="1457.1" r="7" fill="none" stroke="#5f5f5f" stroke-width="4.4"/>
<circle cx="558.3" cy="1471.1" r="7" fill="none" stroke="#5f5f5f" stroke-width="4.4"/>
<circle cx="579.2" cy="1485.1" r="7" fill="none" stroke="#5f5f5f" stroke-width="4.4"/>
<circle cx="600.9" cy="1499.1" r="7" fill="none" stroke="#5f5f5f" stroke-width="4.4"/>
<circle cx="620" cy="1511.8" r="7" fill="none" stroke="#5f5f5f" stroke-width="4.4"/>
<path d="M312,1283 319,1289 338,1300 360,1313 370,1326 394,1339 417,1354 441,1366.5 468,1380 486,1395 507,1410 534,1425 558,1440 585,1455 608,1470 629,1484 655,1498 683,1514 714,1532 733,1548 756,1565 781,1580 797,1596 800,1602" fill="none" stroke="#404040" stroke-width="5.0" stroke-linejoin="round"/>
<path d="M312 1271.1L315.4 1277L322.3 1277L318.9 1283L322.3 1289L315.4 1289L312 1294.9L308.6 1289L301.7 1289L305.1 1283L301.7 1277L308.6 1277Z" fill="#404040"/>
<path d="M319.2 1277.2L322.6 1283.1L329.5 1283.1L326 1289.1L329.5 1295L322.6 1295L319.2 1301L315.7 1295L308.9 1295L312.3 1289.1L308.9 1283.1L315.7 1283.1Z" fill="#404040"/>
<path d="M338.5 1288.4L341.9 1294.3L348.8 1294.3L345.4 1300.3L348.8 1306.2L341.9 1306.2L338.5 1312.2L335.1 1306.2L328.2 1306.2L331.6 1300.3L328.2 1294.3L335.1 1294.3Z" fill="#404040"/>
<path d="M359.8 1301L363.3 1306.9L370.1 1306.9L366.7 1312.9L370.1 1318.8L363.3 1318.8L359.8 1324.8L356.4 1318.8L349.5 1318.8L353 1312.9L349.5 1306.9L356.4 1306.9Z" fill="#404040"/>
<path d="M370.2 1314.2L373.6 1320.1L380.5 1320.1L377.1 1326.1L380.5 1332L373.6 1332L370.2 1338L366.7 1332L359.9 1332L363.3 1326.1L359.9 1320.1L366.7 1320.1Z" fill="#404040"/>
<path d="M394.8 1327.6L398.2 1333.5L405.1 1333.5L401.6 1339.5L405.1 1345.5L398.2 1345.5L394.8 1351.4L391.3 1345.5L384.5 1345.5L387.9 1339.5L384.5 1333.5L391.3 1333.5Z" fill="#404040"/>
<path d="M414.1 1340.2L417.5 1346.1L424.4 1346.1L421 1352.1L424.4 1358L417.5 1358L414.1 1364L410.7 1358L403.8 1358L407.2 1352.1L403.8 1346.1L410.7 1346.1Z" fill="#404040"/>
<path d="M442.2 1355.2L445.6 1361.1L452.5 1361.1L449.1 1367.1L452.5 1373L445.6 1373L442.2 1379L438.8 1373L431.9 1373L435.3 1367.1L431.9 1361.1L438.8 1361.1Z" fill="#404040"/>
<path d="M470.5 1370.2L474 1376.1L480.8 1376.1L477.4 1382.1L480.8 1388L474 1388L470.5 1394L467.1 1388L460.2 1388L463.6 1382.1L460.2 1376.1L467.1 1376.1Z" fill="#404040"/>
<path d="M487.5 1384.2L491 1390.1L497.8 1390.1L494.4 1396.1L497.8 1402L491 1402L487.5 1408L484.1 1402L477.2 1402L480.7 1396.1L477.2 1390.1L484.1 1390.1Z" fill="#404040"/>
<path d="M507.2 1398.2L510.6 1404.1L517.5 1404.1L514.1 1410.1L517.5 1416L510.6 1416L507.2 1422L503.7 1416L496.9 1416L500.3 1410.1L496.9 1404.1L503.7 1404.1Z" fill="#404040"/>
<path d="M534.2 1413.2L537.6 1419.1L544.5 1419.1L541 1425.1L544.5 1431L537.6 1431L534.2 1437L530.7 1431L523.9 1431L527.3 1425.1L523.9 1419.1L530.7 1419.1Z" fill="#404040"/>
<path d="M558.9 1428.6L562.3 1434.5L569.2 1434.5L565.8 1440.5L569.2 1446.5L562.3 1446.5L558.9 1452.4L555.5 1446.5L548.6 1446.5L552 1440.5L548.6 1434.5L555.5 1434.5Z" fill="#404040"/>
<path d="M584.8 1443L588.3 1448.9L595.1 1448.9L591.7 1454.9L595.1 1460.8L588.3 1460.8L584.8 1466.8L581.4 1460.8L574.5 1460.8L577.9 1454.9L574.5 1448.9L581.4 1448.9Z" fill="#404040"/>
<path d="M607.8 1458L611.3 1463.9L618.2 1463.9L614.7 1469.9L618.2 1475.8L611.3 1475.8L607.8 1481.8L604.4 1475.8L597.5 1475.8L601 1469.9L597.5 1463.9L604.4 1463.9Z" fill="#404040"/>
<path d="M628.5 1471.8L632 1477.7L638.9 1477.7L635.4 1483.7L638.9 1489.6L632 1489.6L628.5 1495.6L625.1 1489.6L618.2 1489.6L621.7 1483.7L618.2 1477.7L625.1 1477.7Z" fill="#404040"/>
<path d="M655.2 1486.2L658.6 1492.1L665.5 1492.1L662 1498.1L665.5 1504L658.6 1504L655.2 1510L651.7 1504L644.9 1504L648.3 1498.1L644.9 1492.1L651.7 1492.1Z" fill="#404040"/>
<path d="M683.2 1502.2L686.6 1508.1L693.5 1508.1L690 1514.1L693.5 1520L686.6 1520L683.2 1526L679.7 1520L672.9 1520L676.3 1514.1L672.9 1508.1L679.7 1508.1Z" fill="#404040"/>
<path d="M713.5 1519.8L716.9 1525.7L723.8 1525.7L720.4 1531.7L723.8 1537.6L716.9 1537.6L713.5 1543.6L710 1537.6L703.2 1537.6L706.6 1531.7L703.2 1525.7L710 1525.7Z" fill="#404040"/>
<path d="M733.1 1536.2L736.6 1542.1L743.4 1542.1L740 1548.1L743.4 1554L736.6 1554L733.1 1560L729.7 1554L722.8 1554L726.3 1548.1L722.8 1542.1L729.7 1542.1Z" fill="#404040"/>
<path d="M756.2 1553.2L759.6 1559.1L766.5 1559.1L763 1565.1L766.5 1571L759.6 1571L756.2 1577L752.7 1571L745.9 1571L749.3 1565.1L745.9 1559.1L752.7 1559.1Z" fill="#404040"/>
<path d="M784.1 1571.2L787.5 1577.1L794.4 1577.1L791 1583.1L794.4 1589L787.5 1589L784.1 1595L780.7 1589L773.8 1589L777.2 1583.1L773.8 1577.1L780.7 1577.1Z" fill="#404040"/>
<path d="M800 1590.1L803.4 1596L810.3 1596L806.9 1602L810.3 1608L803.4 1608L800 1613.9L796.6 1608L789.7 1608L793.1 1602L789.7 1596L796.6 1596Z" fill="#404040"/>
<rect x="107.7" y="1280.9" width="867.1" height="495.5" fill="none" stroke="#262626" stroke-width="1.3"/>
<path d="M107.7 1776.4V1767.4M107.7 1280.9V1289.9" stroke="#262626" stroke-width="1.3"/>
<text x="107.7" y="1809.4" text-anchor="middle" class="tk">110</text>
<path d="M216.1 1776.4V1767.4M216.1 1280.9V1289.9" stroke="#262626" stroke-width="1.3"/>
<text x="216.1" y="1809.4" text-anchor="middle" class="tk">100</text>
<path d="M324.5 1776.4V1767.4M324.5 1280.9V1289.9" stroke="#262626" stroke-width="1.3"/>
<text x="324.5" y="1809.4" text-anchor="middle" class="tk">90</text>
<path d="M432.9 1776.4V1767.4M432.9 1280.9V1289.9" stroke="#262626" stroke-width="1.3"/>
<text x="432.9" y="1809.4" text-anchor="middle" class="tk">80</text>
<path d="M541.2 1776.4V1767.4M541.2 1280.9V1289.9" stroke="#262626" stroke-width="1.3"/>
<text x="541.2" y="1809.4" text-anchor="middle" class="tk">70</text>
<path d="M649.6 1776.4V1767.4M649.6 1280.9V1289.9" stroke="#262626" stroke-width="1.3"/>
<text x="649.6" y="1809.4" text-anchor="middle" class="tk">60</text>
<path d="M758 1776.4V1767.4M758 1280.9V1289.9" stroke="#262626" stroke-width="1.3"/>
<text x="758" y="1809.4" text-anchor="middle" class="tk">50</text>
<path d="M866.4 1776.4V1767.4M866.4 1280.9V1289.9" stroke="#262626" stroke-width="1.3"/>
<text x="866.4" y="1809.4" text-anchor="middle" class="tk">40</text>
<path d="M974.8 1776.4V1767.4M974.8 1280.9V1289.9" stroke="#262626" stroke-width="1.3"/>
<text x="974.8" y="1809.4" text-anchor="middle" class="tk">30</text>
<path d="M107.7 1776.4H116.7M974.8 1776.4H965.8" stroke="#262626" stroke-width="1.3"/>
<text x="97.5" y="1783.5" text-anchor="end" class="tk">50</text>
<path d="M107.7 1677.3H116.7M974.8 1677.3H965.8" stroke="#262626" stroke-width="1.3"/>
<text x="97.5" y="1684.4" text-anchor="end" class="tk">60</text>
<path d="M107.7 1578.2H116.7M974.8 1578.2H965.8" stroke="#262626" stroke-width="1.3"/>
<text x="97.5" y="1585.3" text-anchor="end" class="tk">70</text>
<path d="M107.7 1479.1H116.7M974.8 1479.1H965.8" stroke="#262626" stroke-width="1.3"/>
<text x="97.5" y="1486.2" text-anchor="end" class="tk">80</text>
<path d="M107.7 1380H116.7M974.8 1380H965.8" stroke="#262626" stroke-width="1.3"/>
<text x="97.5" y="1387.1" text-anchor="end" class="tk">90</text>
<path d="M107.7 1280.9H116.7M974.8 1280.9H965.8" stroke="#262626" stroke-width="1.3"/>
<text x="97.5" y="1288" text-anchor="end" class="tk">100</text>
<rect x="131.4" y="1423.6" width="193.2" height="308.7" fill="#fff" stroke="#262626" stroke-width="1.3"/>
<path d="M138.7,1441.9 206.2,1441.9" fill="none" stroke="#cfcdc3" stroke-width="4.5" stroke-linejoin="round"/>
<path d="M166 1430.4L182.3 1441.9L166 1453.4Z" fill="#cfcdc3"/>
<text x="212.4" y="1449.5" class="lg" textLength="81.5" lengthAdjust="spacingAndGlyphs">6.9 kPa</text>
<path d="M138.7,1472.1 206.2,1472.1" fill="none" stroke="#b9b8b1" stroke-width="4.5" stroke-linejoin="round"/>
<circle cx="172.4" cy="1472.1" r="6.8" fill="#b9b8b1"/>
<text x="212.4" y="1479.7" class="lg" textLength="93" lengthAdjust="spacingAndGlyphs">34.5 kPa</text>
<path d="M138.7,1502.3 206.2,1502.3" fill="none" stroke="#b9b8b1" stroke-width="4.5" stroke-linejoin="round"/>
<circle cx="172.4" cy="1502.3" r="6.8" fill="#b9b8b1"/>
<text x="212.4" y="1509.9" class="lg" textLength="93" lengthAdjust="spacingAndGlyphs">34.5 kPa</text>
<path d="M138.7,1532.5 206.2,1532.5" fill="none" stroke="#9d9d98" stroke-width="4.5" stroke-linejoin="round"/>
<rect x="165.1" y="1525.2" width="14.6" height="14.6" fill="#9d9d98"/>
<text x="212.4" y="1540.1" class="lg" textLength="93" lengthAdjust="spacingAndGlyphs">68.9 kPa</text>
<path d="M138.7,1562.7 206.2,1562.7" fill="none" stroke="#9d9d98" stroke-width="4.5" stroke-linejoin="round"/>
<rect x="165.1" y="1555.4" width="14.6" height="14.6" fill="#9d9d98"/>
<text x="212.4" y="1570.3" class="lg" textLength="93" lengthAdjust="spacingAndGlyphs">68.9 kPa</text>
<path d="M138.7,1592.9 206.2,1592.9" fill="none" stroke="#7e7e7a" stroke-width="4.5" stroke-linejoin="round"/>
<path d="M172.4 1584L178.7 1592.9L172.4 1601.8L166.1 1592.9Z" fill="none" stroke="#7e7e7a" stroke-width="4.4"/>
<text x="212.4" y="1600.5" class="lg" textLength="104.5" lengthAdjust="spacingAndGlyphs">103.4 kPa</text>
<path d="M138.7,1623 206.2,1623" fill="none" stroke="#7e7e7a" stroke-width="4.5" stroke-linejoin="round"/>
<path d="M172.4 1614.1L178.7 1623L172.4 1631.9L166.1 1623Z" fill="none" stroke="#7e7e7a" stroke-width="4.4"/>
<text x="212.4" y="1630.6" class="lg" textLength="104.5" lengthAdjust="spacingAndGlyphs">103.4 kPa</text>
<path d="M138.7,1653.2 206.2,1653.2" fill="none" stroke="#5f5f5f" stroke-width="4.5" stroke-linejoin="round"/>
<circle cx="172.4" cy="1653.2" r="7" fill="none" stroke="#5f5f5f" stroke-width="4.4"/>
<text x="212.4" y="1660.8" class="lg" textLength="104.5" lengthAdjust="spacingAndGlyphs">137.9 kPa</text>
<path d="M138.7,1683.4 206.2,1683.4" fill="none" stroke="#5f5f5f" stroke-width="4.5" stroke-linejoin="round"/>
<circle cx="172.4" cy="1683.4" r="7" fill="none" stroke="#5f5f5f" stroke-width="4.4"/>
<text x="212.4" y="1691" class="lg" textLength="104.5" lengthAdjust="spacingAndGlyphs">137.9 kPa</text>
<path d="M138.7,1713.6 206.2,1713.6" fill="none" stroke="#404040" stroke-width="5.0" stroke-linejoin="round"/>
<path d="M172.4 1701.7L175.8 1707.7L182.7 1707.7L179.3 1713.6L182.7 1719.6L175.8 1719.6L172.4 1725.5L169 1719.6L162.1 1719.6L165.5 1713.6L162.1 1707.7L169 1707.7Z" fill="#404040"/>
<text x="212.4" y="1721.2" class="lg" textLength="104.5" lengthAdjust="spacingAndGlyphs">172.4 kPa</text>
<path d="M382.2,1529.4 608.8,1438.7" fill="none" stroke="#4472c4" stroke-width="3.6"/><path d="M623.8 1432.2L606.5 1452.6L608.8 1438.7L597.1 1431Z" fill="#4472c4"/>
<text x="641.7" y="1422.7" class="an">Higher</text>
<text x="642" y="1459.7" class="an">pressure</text>
<text x="365.5" y="1846.2" class="lb" textLength="349" lengthAdjust="spacingAndGlyphs">Reversible Expansion [<tspan font-style="italic">μm</tspan>]</text>
<text transform="translate(39.8,1529.7) rotate(-90)" text-anchor="middle" class="lb" textLength="349" lengthAdjust="spacingAndGlyphs">2C Capacity Retention [%]</text>
</svg>
</body></html>
